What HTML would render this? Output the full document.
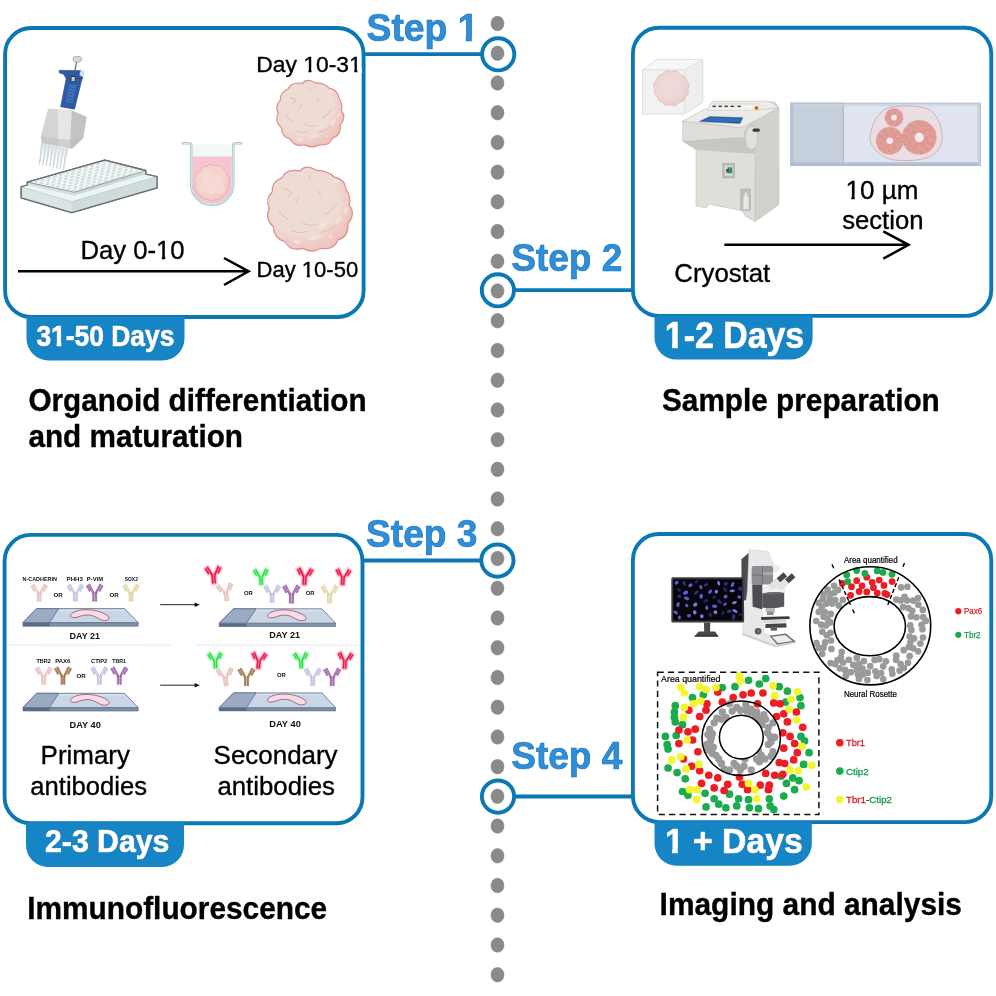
<!DOCTYPE html>
<html lang="en"><head><meta charset="utf-8"><title>Organoid immunofluorescence workflow</title>
<style>html,body{margin:0;padding:0;background:#fff}svg{display:block;will-change:transform}text{font-family:"Liberation Sans", sans-serif}</style>
</head><body>
<svg width="996" height="996" viewBox="0 0 996 996">
<rect width="996" height="996" fill="#fff"/>
<rect x="5.1" y="28" width="358.5" height="289" rx="26" ry="26" fill="#fff" stroke="#0b78b6" stroke-width="3.9"/>
<rect x="632.9" y="27.7" width="358.4" height="288.2" rx="26" ry="26" fill="#fff" stroke="#0b78b6" stroke-width="3.9"/>
<rect x="4.6" y="534.9" width="357.9" height="288.4" rx="26" ry="26" fill="#fff" stroke="#0b78b6" stroke-width="3.9"/>
<rect x="632.9" y="534" width="358.4" height="288.1" rx="26" ry="26" fill="#fff" stroke="#0b78b6" stroke-width="3.9"/>
<path d="M26.5 316.5 H184.5 V338.4 a22 22 0 0 1 -22 22 H48.5 a22 22 0 0 1 -22 -22 Z" fill="#1585c5"/>
<path d="M654.5 315.4 H812.6 V337.6 a22 22 0 0 1 -22 22 H676.5 a22 22 0 0 1 -22 -22 Z" fill="#1585c5"/>
<path d="M26 822.8 H184 V845 a22 22 0 0 1 -22 22 H48 a22 22 0 0 1 -22 -22 Z" fill="#1585c5"/>
<path d="M654.5 821.6 H811.8 V843.7 a22 22 0 0 1 -22 22 H676.5 a22 22 0 0 1 -22 -22 Z" fill="#1585c5"/>
<line x1="363.6" y1="54.2" x2="482" y2="54.2" stroke="#0b78b6" stroke-width="3.8"/>
<circle cx="498.2" cy="54.3" r="16.1" fill="#fff" stroke="#0b78b6" stroke-width="3.9"/>
<line x1="514" y1="290.2" x2="632.9" y2="290.2" stroke="#0b78b6" stroke-width="3.8"/>
<circle cx="497.9" cy="290.3" r="16.1" fill="#fff" stroke="#0b78b6" stroke-width="3.9"/>
<line x1="362.5" y1="560.5" x2="481.4" y2="560.5" stroke="#0b78b6" stroke-width="3.8"/>
<circle cx="497.4" cy="560.6" r="16.1" fill="#fff" stroke="#0b78b6" stroke-width="3.9"/>
<line x1="514" y1="796.5" x2="632.9" y2="796.5" stroke="#0b78b6" stroke-width="3.8"/>
<circle cx="498" cy="796.6" r="16.1" fill="#fff" stroke="#0b78b6" stroke-width="3.9"/>
<rect x="491.05" y="16.25" width="12.9" height="14.5" rx="6.4" ry="6.8" fill="#8a8a8a" stroke="#7d7d7d" stroke-width="0.5"/>
<rect x="491.05" y="45.98" width="12.9" height="14.5" rx="6.4" ry="6.8" fill="#8a8a8a" stroke="#7d7d7d" stroke-width="0.5"/>
<rect x="491.05" y="75.7" width="12.9" height="14.5" rx="6.4" ry="6.8" fill="#8a8a8a" stroke="#7d7d7d" stroke-width="0.5"/>
<rect x="491.05" y="105.43" width="12.9" height="14.5" rx="6.4" ry="6.8" fill="#8a8a8a" stroke="#7d7d7d" stroke-width="0.5"/>
<rect x="491.05" y="135.15" width="12.9" height="14.5" rx="6.4" ry="6.8" fill="#8a8a8a" stroke="#7d7d7d" stroke-width="0.5"/>
<rect x="491.05" y="164.88" width="12.9" height="14.5" rx="6.4" ry="6.8" fill="#8a8a8a" stroke="#7d7d7d" stroke-width="0.5"/>
<rect x="491.05" y="194.6" width="12.9" height="14.5" rx="6.4" ry="6.8" fill="#8a8a8a" stroke="#7d7d7d" stroke-width="0.5"/>
<rect x="491.05" y="224.33" width="12.9" height="14.5" rx="6.4" ry="6.8" fill="#8a8a8a" stroke="#7d7d7d" stroke-width="0.5"/>
<rect x="491.05" y="254.05" width="12.9" height="14.5" rx="6.4" ry="6.8" fill="#8a8a8a" stroke="#7d7d7d" stroke-width="0.5"/>
<rect x="491.05" y="283.78" width="12.9" height="14.5" rx="6.4" ry="6.8" fill="#8a8a8a" stroke="#7d7d7d" stroke-width="0.5"/>
<rect x="491.05" y="313.5" width="12.9" height="14.5" rx="6.4" ry="6.8" fill="#8a8a8a" stroke="#7d7d7d" stroke-width="0.5"/>
<rect x="491.05" y="343.23" width="12.9" height="14.5" rx="6.4" ry="6.8" fill="#8a8a8a" stroke="#7d7d7d" stroke-width="0.5"/>
<rect x="491.05" y="372.95" width="12.9" height="14.5" rx="6.4" ry="6.8" fill="#8a8a8a" stroke="#7d7d7d" stroke-width="0.5"/>
<rect x="491.05" y="402.68" width="12.9" height="14.5" rx="6.4" ry="6.8" fill="#8a8a8a" stroke="#7d7d7d" stroke-width="0.5"/>
<rect x="491.05" y="432.4" width="12.9" height="14.5" rx="6.4" ry="6.8" fill="#8a8a8a" stroke="#7d7d7d" stroke-width="0.5"/>
<rect x="491.05" y="462.12" width="12.9" height="14.5" rx="6.4" ry="6.8" fill="#8a8a8a" stroke="#7d7d7d" stroke-width="0.5"/>
<rect x="491.05" y="491.85" width="12.9" height="14.5" rx="6.4" ry="6.8" fill="#8a8a8a" stroke="#7d7d7d" stroke-width="0.5"/>
<rect x="491.05" y="521.58" width="12.9" height="14.5" rx="6.4" ry="6.8" fill="#8a8a8a" stroke="#7d7d7d" stroke-width="0.5"/>
<rect x="491.05" y="551.3" width="12.9" height="14.5" rx="6.4" ry="6.8" fill="#8a8a8a" stroke="#7d7d7d" stroke-width="0.5"/>
<rect x="491.05" y="581.02" width="12.9" height="14.5" rx="6.4" ry="6.8" fill="#8a8a8a" stroke="#7d7d7d" stroke-width="0.5"/>
<rect x="491.05" y="610.75" width="12.9" height="14.5" rx="6.4" ry="6.8" fill="#8a8a8a" stroke="#7d7d7d" stroke-width="0.5"/>
<rect x="491.05" y="640.48" width="12.9" height="14.5" rx="6.4" ry="6.8" fill="#8a8a8a" stroke="#7d7d7d" stroke-width="0.5"/>
<rect x="491.05" y="670.2" width="12.9" height="14.5" rx="6.4" ry="6.8" fill="#8a8a8a" stroke="#7d7d7d" stroke-width="0.5"/>
<rect x="491.05" y="699.93" width="12.9" height="14.5" rx="6.4" ry="6.8" fill="#8a8a8a" stroke="#7d7d7d" stroke-width="0.5"/>
<rect x="491.05" y="729.65" width="12.9" height="14.5" rx="6.4" ry="6.8" fill="#8a8a8a" stroke="#7d7d7d" stroke-width="0.5"/>
<rect x="491.05" y="759.38" width="12.9" height="14.5" rx="6.4" ry="6.8" fill="#8a8a8a" stroke="#7d7d7d" stroke-width="0.5"/>
<rect x="491.05" y="789.1" width="12.9" height="14.5" rx="6.4" ry="6.8" fill="#8a8a8a" stroke="#7d7d7d" stroke-width="0.5"/>
<rect x="491.05" y="818.83" width="12.9" height="14.5" rx="6.4" ry="6.8" fill="#8a8a8a" stroke="#7d7d7d" stroke-width="0.5"/>
<rect x="491.05" y="848.55" width="12.9" height="14.5" rx="6.4" ry="6.8" fill="#8a8a8a" stroke="#7d7d7d" stroke-width="0.5"/>
<rect x="491.05" y="878.28" width="12.9" height="14.5" rx="6.4" ry="6.8" fill="#8a8a8a" stroke="#7d7d7d" stroke-width="0.5"/>
<rect x="491.05" y="908" width="12.9" height="14.5" rx="6.4" ry="6.8" fill="#8a8a8a" stroke="#7d7d7d" stroke-width="0.5"/>
<rect x="491.05" y="937.73" width="12.9" height="14.5" rx="6.4" ry="6.8" fill="#8a8a8a" stroke="#7d7d7d" stroke-width="0.5"/>
<rect x="491.05" y="967.45" width="12.9" height="14.5" rx="6.4" ry="6.8" fill="#8a8a8a" stroke="#7d7d7d" stroke-width="0.5"/>
<text x="366.6" y="40.7" font-size="39.1" font-weight="bold" fill="#308dd7" text-anchor="start" textLength="111.8" lengthAdjust="spacingAndGlyphs" stroke="#1a76c0" stroke-width="0.7">Step 1</text>
<rect x="458.8" y="34.82" width="6.93" height="7.28" fill="#fff"/><rect x="471.91" y="34.82" width="6.81" height="7.28" fill="#fff"/>
<text x="511.2" y="271.3" font-size="39.1" font-weight="bold" fill="#308dd7" text-anchor="start" textLength="111.2" lengthAdjust="spacingAndGlyphs" stroke="#1a76c0" stroke-width="0.7">Step 2</text>
<text x="366.1" y="546.9" font-size="39.1" font-weight="bold" fill="#308dd7" text-anchor="start" textLength="111.2" lengthAdjust="spacingAndGlyphs" stroke="#1a76c0" stroke-width="0.7">Step 3</text>
<text x="511.2" y="769" font-size="39.1" font-weight="bold" fill="#308dd7" text-anchor="start" textLength="111.2" lengthAdjust="spacingAndGlyphs" stroke="#1a76c0" stroke-width="0.7">Step 4</text>
<text x="36.4" y="345.8" font-size="28.6" font-weight="bold" fill="#fff" text-anchor="start" textLength="138" lengthAdjust="spacingAndGlyphs" style="filter:drop-shadow(0.3px 0.5px 0.7px rgba(4,58,102,0.95))" stroke="#fff" stroke-width="0.7">31-50 Days</text>
<rect x="51.88" y="341.34" width="4.78" height="5.86" fill="#1585c5"/><rect x="61.31" y="341.34" width="4.7" height="5.86" fill="#1585c5"/>
<text x="664.8" y="348.3" font-size="37.13" font-weight="bold" fill="#fff" text-anchor="start" textLength="139.4" lengthAdjust="spacingAndGlyphs" style="filter:drop-shadow(0.3px 0.5px 0.7px rgba(4,58,102,0.95))" stroke="#fff" stroke-width="0.7">1-2 Days</text>
<rect x="665.82" y="342.69" width="6.26" height="7.01" fill="#1585c5"/><rect x="677.79" y="342.69" width="6.16" height="7.01" fill="#1585c5"/>
<text x="45" y="852.3" font-size="30.68" font-weight="bold" fill="#fff" text-anchor="start" textLength="124.4" lengthAdjust="spacingAndGlyphs" style="filter:drop-shadow(0.3px 0.5px 0.7px rgba(4,58,102,0.95))" stroke="#fff" stroke-width="0.7">2-3 Days</text>
<text x="664.9" y="853.4" font-size="35.36" font-weight="bold" fill="#fff" text-anchor="start" textLength="137.8" lengthAdjust="spacingAndGlyphs" style="filter:drop-shadow(0.3px 0.5px 0.7px rgba(4,58,102,0.95))" stroke="#fff" stroke-width="0.7">1 + Days</text>
<rect x="665.91" y="848.03" width="6.23" height="6.77" fill="#1585c5"/><rect x="677.83" y="848.03" width="6.13" height="6.77" fill="#1585c5"/>
<text x="28.4" y="410.8" font-size="30.78" font-weight="bold" fill="#000" text-anchor="start" textLength="338.2" lengthAdjust="spacingAndGlyphs" stroke="#000" stroke-width="0.35">Organoid differentiation</text>
<text x="28.4" y="447.2" font-size="30.78" font-weight="bold" fill="#000" text-anchor="start" textLength="214.6" lengthAdjust="spacingAndGlyphs" stroke="#000" stroke-width="0.35">and maturation</text>
<text x="662" y="411.2" font-size="30.78" font-weight="bold" fill="#000" text-anchor="start" textLength="277.8" lengthAdjust="spacingAndGlyphs" stroke="#000" stroke-width="0.35">Sample preparation</text>
<text x="27.2" y="919.2" font-size="30.78" font-weight="bold" fill="#000" text-anchor="start" textLength="300" lengthAdjust="spacingAndGlyphs" stroke="#000" stroke-width="0.35">Immunofluorescence</text>
<text x="659.6" y="915.1" font-size="30.78" font-weight="bold" fill="#000" text-anchor="start" textLength="302.4" lengthAdjust="spacingAndGlyphs" stroke="#000" stroke-width="0.35">Imaging and analysis</text>
<g id="panel1">
<polygon points="21.2,186.9 27.3,185 27.3,182.1 104.8,160.1 145.7,170.5 145.7,174.1 157,176.6 157,187.9 71.8,212.6 21.2,197.8" fill="#dbe6e6" stroke="#6b6f70" stroke-width="1.3" stroke-linejoin="round"/>
<polygon points="21.2,186.9 27.3,185 74.3,195.4 145.7,174.1 157,176.6 71.8,201.8" fill="#eef4f4" stroke="none" stroke-width="0" stroke-linejoin="round"/>
<polygon points="21.2,186.9 71.8,201.8 71.8,212.6 21.2,197.8" fill="#dae5e5" stroke="none" stroke-width="0" stroke-linejoin="round"/>
<polygon points="71.8,201.8 157,176.6 157,187.9 71.8,212.6" fill="#cfdcdc" stroke="none" stroke-width="0" stroke-linejoin="round"/>
<polygon points="27.3,182.1 74.3,192.2 74.3,195.4 27.3,185" fill="#d3e0e0" stroke="none" stroke-width="0" stroke-linejoin="round"/>
<polygon points="74.3,192.2 145.7,170.5 145.7,174.1 74.3,195.4" fill="#c9d8d8" stroke="none" stroke-width="0" stroke-linejoin="round"/>
<polygon points="27.3,182.1 104.8,160.1 145.7,170.5 74.3,192.2" fill="#f4f8f8" stroke="#6b6f70" stroke-width="0.7" stroke-linejoin="round"/>
<ellipse cx="36.32" cy="181.72" rx="2.3" ry="1.05" fill="#d2dede" transform="rotate(-14 36.32 181.72)"/>
<ellipse cx="41.79" cy="182.89" rx="2.3" ry="1.05" fill="#d2dede" transform="rotate(-14 41.79 182.89)"/>
<ellipse cx="47.25" cy="184.07" rx="2.3" ry="1.05" fill="#d2dede" transform="rotate(-14 47.25 184.07)"/>
<ellipse cx="52.72" cy="185.24" rx="2.3" ry="1.05" fill="#d2dede" transform="rotate(-14 52.72 185.24)"/>
<ellipse cx="58.18" cy="186.42" rx="2.3" ry="1.05" fill="#d2dede" transform="rotate(-14 58.18 186.42)"/>
<ellipse cx="63.65" cy="187.59" rx="2.3" ry="1.05" fill="#d2dede" transform="rotate(-14 63.65 187.59)"/>
<ellipse cx="69.11" cy="188.77" rx="2.3" ry="1.05" fill="#d2dede" transform="rotate(-14 69.11 188.77)"/>
<ellipse cx="74.58" cy="189.94" rx="2.3" ry="1.05" fill="#d2dede" transform="rotate(-14 74.58 189.94)"/>
<ellipse cx="42.52" cy="179.96" rx="2.3" ry="1.05" fill="#d2dede" transform="rotate(-14 42.52 179.96)"/>
<ellipse cx="47.99" cy="181.13" rx="2.3" ry="1.05" fill="#d2dede" transform="rotate(-14 47.99 181.13)"/>
<ellipse cx="53.45" cy="182.31" rx="2.3" ry="1.05" fill="#d2dede" transform="rotate(-14 53.45 182.31)"/>
<ellipse cx="58.92" cy="183.48" rx="2.3" ry="1.05" fill="#d2dede" transform="rotate(-14 58.92 183.48)"/>
<ellipse cx="64.38" cy="184.66" rx="2.3" ry="1.05" fill="#d2dede" transform="rotate(-14 64.38 184.66)"/>
<ellipse cx="69.85" cy="185.83" rx="2.3" ry="1.05" fill="#d2dede" transform="rotate(-14 69.85 185.83)"/>
<ellipse cx="75.31" cy="187.01" rx="2.3" ry="1.05" fill="#d2dede" transform="rotate(-14 75.31 187.01)"/>
<ellipse cx="80.78" cy="188.18" rx="2.3" ry="1.05" fill="#d2dede" transform="rotate(-14 80.78 188.18)"/>
<ellipse cx="48.72" cy="178.2" rx="2.3" ry="1.05" fill="#d2dede" transform="rotate(-14 48.72 178.2)"/>
<ellipse cx="54.19" cy="179.37" rx="2.3" ry="1.05" fill="#d2dede" transform="rotate(-14 54.19 179.37)"/>
<ellipse cx="59.65" cy="180.55" rx="2.3" ry="1.05" fill="#d2dede" transform="rotate(-14 59.65 180.55)"/>
<ellipse cx="65.12" cy="181.72" rx="2.3" ry="1.05" fill="#d2dede" transform="rotate(-14 65.12 181.72)"/>
<ellipse cx="70.58" cy="182.9" rx="2.3" ry="1.05" fill="#d2dede" transform="rotate(-14 70.58 182.9)"/>
<ellipse cx="76.05" cy="184.07" rx="2.3" ry="1.05" fill="#d2dede" transform="rotate(-14 76.05 184.07)"/>
<ellipse cx="81.51" cy="185.25" rx="2.3" ry="1.05" fill="#d2dede" transform="rotate(-14 81.51 185.25)"/>
<ellipse cx="86.98" cy="186.42" rx="2.3" ry="1.05" fill="#d2dede" transform="rotate(-14 86.98 186.42)"/>
<ellipse cx="54.92" cy="176.44" rx="2.3" ry="1.05" fill="#d2dede" transform="rotate(-14 54.92 176.44)"/>
<ellipse cx="60.39" cy="177.61" rx="2.3" ry="1.05" fill="#d2dede" transform="rotate(-14 60.39 177.61)"/>
<ellipse cx="65.85" cy="178.79" rx="2.3" ry="1.05" fill="#d2dede" transform="rotate(-14 65.85 178.79)"/>
<ellipse cx="71.32" cy="179.96" rx="2.3" ry="1.05" fill="#d2dede" transform="rotate(-14 71.32 179.96)"/>
<ellipse cx="76.78" cy="181.14" rx="2.3" ry="1.05" fill="#d2dede" transform="rotate(-14 76.78 181.14)"/>
<ellipse cx="82.25" cy="182.31" rx="2.3" ry="1.05" fill="#d2dede" transform="rotate(-14 82.25 182.31)"/>
<ellipse cx="87.71" cy="183.49" rx="2.3" ry="1.05" fill="#d2dede" transform="rotate(-14 87.71 183.49)"/>
<ellipse cx="93.18" cy="184.66" rx="2.3" ry="1.05" fill="#d2dede" transform="rotate(-14 93.18 184.66)"/>
<ellipse cx="61.12" cy="174.68" rx="2.3" ry="1.05" fill="#d2dede" transform="rotate(-14 61.12 174.68)"/>
<ellipse cx="66.59" cy="175.85" rx="2.3" ry="1.05" fill="#d2dede" transform="rotate(-14 66.59 175.85)"/>
<ellipse cx="72.05" cy="177.03" rx="2.3" ry="1.05" fill="#d2dede" transform="rotate(-14 72.05 177.03)"/>
<ellipse cx="77.52" cy="178.2" rx="2.3" ry="1.05" fill="#d2dede" transform="rotate(-14 77.52 178.2)"/>
<ellipse cx="82.98" cy="179.38" rx="2.3" ry="1.05" fill="#d2dede" transform="rotate(-14 82.98 179.38)"/>
<ellipse cx="88.45" cy="180.55" rx="2.3" ry="1.05" fill="#d2dede" transform="rotate(-14 88.45 180.55)"/>
<ellipse cx="93.91" cy="181.73" rx="2.3" ry="1.05" fill="#d2dede" transform="rotate(-14 93.91 181.73)"/>
<ellipse cx="99.38" cy="182.9" rx="2.3" ry="1.05" fill="#d2dede" transform="rotate(-14 99.38 182.9)"/>
<ellipse cx="67.32" cy="172.92" rx="2.3" ry="1.05" fill="#d2dede" transform="rotate(-14 67.32 172.92)"/>
<ellipse cx="72.79" cy="174.09" rx="2.3" ry="1.05" fill="#d2dede" transform="rotate(-14 72.79 174.09)"/>
<ellipse cx="78.25" cy="175.27" rx="2.3" ry="1.05" fill="#d2dede" transform="rotate(-14 78.25 175.27)"/>
<ellipse cx="83.72" cy="176.44" rx="2.3" ry="1.05" fill="#d2dede" transform="rotate(-14 83.72 176.44)"/>
<ellipse cx="89.18" cy="177.62" rx="2.3" ry="1.05" fill="#d2dede" transform="rotate(-14 89.18 177.62)"/>
<ellipse cx="94.65" cy="178.79" rx="2.3" ry="1.05" fill="#d2dede" transform="rotate(-14 94.65 178.79)"/>
<ellipse cx="100.11" cy="179.97" rx="2.3" ry="1.05" fill="#d2dede" transform="rotate(-14 100.11 179.97)"/>
<ellipse cx="105.58" cy="181.14" rx="2.3" ry="1.05" fill="#d2dede" transform="rotate(-14 105.58 181.14)"/>
<ellipse cx="73.52" cy="171.16" rx="2.3" ry="1.05" fill="#d2dede" transform="rotate(-14 73.52 171.16)"/>
<ellipse cx="78.99" cy="172.33" rx="2.3" ry="1.05" fill="#d2dede" transform="rotate(-14 78.99 172.33)"/>
<ellipse cx="84.45" cy="173.51" rx="2.3" ry="1.05" fill="#d2dede" transform="rotate(-14 84.45 173.51)"/>
<ellipse cx="89.92" cy="174.68" rx="2.3" ry="1.05" fill="#d2dede" transform="rotate(-14 89.92 174.68)"/>
<ellipse cx="95.38" cy="175.86" rx="2.3" ry="1.05" fill="#d2dede" transform="rotate(-14 95.38 175.86)"/>
<ellipse cx="100.85" cy="177.03" rx="2.3" ry="1.05" fill="#d2dede" transform="rotate(-14 100.85 177.03)"/>
<ellipse cx="106.31" cy="178.21" rx="2.3" ry="1.05" fill="#d2dede" transform="rotate(-14 106.31 178.21)"/>
<ellipse cx="111.78" cy="179.38" rx="2.3" ry="1.05" fill="#d2dede" transform="rotate(-14 111.78 179.38)"/>
<ellipse cx="79.72" cy="169.4" rx="2.3" ry="1.05" fill="#d2dede" transform="rotate(-14 79.72 169.4)"/>
<ellipse cx="85.19" cy="170.57" rx="2.3" ry="1.05" fill="#d2dede" transform="rotate(-14 85.19 170.57)"/>
<ellipse cx="90.65" cy="171.75" rx="2.3" ry="1.05" fill="#d2dede" transform="rotate(-14 90.65 171.75)"/>
<ellipse cx="96.12" cy="172.92" rx="2.3" ry="1.05" fill="#d2dede" transform="rotate(-14 96.12 172.92)"/>
<ellipse cx="101.58" cy="174.1" rx="2.3" ry="1.05" fill="#d2dede" transform="rotate(-14 101.58 174.1)"/>
<ellipse cx="107.05" cy="175.27" rx="2.3" ry="1.05" fill="#d2dede" transform="rotate(-14 107.05 175.27)"/>
<ellipse cx="112.51" cy="176.45" rx="2.3" ry="1.05" fill="#d2dede" transform="rotate(-14 112.51 176.45)"/>
<ellipse cx="117.98" cy="177.62" rx="2.3" ry="1.05" fill="#d2dede" transform="rotate(-14 117.98 177.62)"/>
<ellipse cx="85.92" cy="167.64" rx="2.3" ry="1.05" fill="#d2dede" transform="rotate(-14 85.92 167.64)"/>
<ellipse cx="91.39" cy="168.81" rx="2.3" ry="1.05" fill="#d2dede" transform="rotate(-14 91.39 168.81)"/>
<ellipse cx="96.85" cy="169.99" rx="2.3" ry="1.05" fill="#d2dede" transform="rotate(-14 96.85 169.99)"/>
<ellipse cx="102.32" cy="171.16" rx="2.3" ry="1.05" fill="#d2dede" transform="rotate(-14 102.32 171.16)"/>
<ellipse cx="107.78" cy="172.34" rx="2.3" ry="1.05" fill="#d2dede" transform="rotate(-14 107.78 172.34)"/>
<ellipse cx="113.25" cy="173.51" rx="2.3" ry="1.05" fill="#d2dede" transform="rotate(-14 113.25 173.51)"/>
<ellipse cx="118.71" cy="174.69" rx="2.3" ry="1.05" fill="#d2dede" transform="rotate(-14 118.71 174.69)"/>
<ellipse cx="124.18" cy="175.86" rx="2.3" ry="1.05" fill="#d2dede" transform="rotate(-14 124.18 175.86)"/>
<ellipse cx="92.12" cy="165.88" rx="2.3" ry="1.05" fill="#d2dede" transform="rotate(-14 92.12 165.88)"/>
<ellipse cx="97.59" cy="167.05" rx="2.3" ry="1.05" fill="#d2dede" transform="rotate(-14 97.59 167.05)"/>
<ellipse cx="103.05" cy="168.23" rx="2.3" ry="1.05" fill="#d2dede" transform="rotate(-14 103.05 168.23)"/>
<ellipse cx="108.52" cy="169.4" rx="2.3" ry="1.05" fill="#d2dede" transform="rotate(-14 108.52 169.4)"/>
<ellipse cx="113.98" cy="170.58" rx="2.3" ry="1.05" fill="#d2dede" transform="rotate(-14 113.98 170.58)"/>
<ellipse cx="119.45" cy="171.75" rx="2.3" ry="1.05" fill="#d2dede" transform="rotate(-14 119.45 171.75)"/>
<ellipse cx="124.91" cy="172.93" rx="2.3" ry="1.05" fill="#d2dede" transform="rotate(-14 124.91 172.93)"/>
<ellipse cx="130.38" cy="174.1" rx="2.3" ry="1.05" fill="#d2dede" transform="rotate(-14 130.38 174.1)"/>
<ellipse cx="98.32" cy="164.12" rx="2.3" ry="1.05" fill="#d2dede" transform="rotate(-14 98.32 164.12)"/>
<ellipse cx="103.79" cy="165.29" rx="2.3" ry="1.05" fill="#d2dede" transform="rotate(-14 103.79 165.29)"/>
<ellipse cx="109.25" cy="166.47" rx="2.3" ry="1.05" fill="#d2dede" transform="rotate(-14 109.25 166.47)"/>
<ellipse cx="114.72" cy="167.64" rx="2.3" ry="1.05" fill="#d2dede" transform="rotate(-14 114.72 167.64)"/>
<ellipse cx="120.18" cy="168.82" rx="2.3" ry="1.05" fill="#d2dede" transform="rotate(-14 120.18 168.82)"/>
<ellipse cx="125.65" cy="169.99" rx="2.3" ry="1.05" fill="#d2dede" transform="rotate(-14 125.65 169.99)"/>
<ellipse cx="131.11" cy="171.17" rx="2.3" ry="1.05" fill="#d2dede" transform="rotate(-14 131.11 171.17)"/>
<ellipse cx="136.58" cy="172.34" rx="2.3" ry="1.05" fill="#d2dede" transform="rotate(-14 136.58 172.34)"/>
<ellipse cx="104.52" cy="162.36" rx="2.3" ry="1.05" fill="#d2dede" transform="rotate(-14 104.52 162.36)"/>
<ellipse cx="109.99" cy="163.53" rx="2.3" ry="1.05" fill="#d2dede" transform="rotate(-14 109.99 163.53)"/>
<ellipse cx="115.45" cy="164.71" rx="2.3" ry="1.05" fill="#d2dede" transform="rotate(-14 115.45 164.71)"/>
<ellipse cx="120.92" cy="165.88" rx="2.3" ry="1.05" fill="#d2dede" transform="rotate(-14 120.92 165.88)"/>
<ellipse cx="126.38" cy="167.06" rx="2.3" ry="1.05" fill="#d2dede" transform="rotate(-14 126.38 167.06)"/>
<ellipse cx="131.85" cy="168.23" rx="2.3" ry="1.05" fill="#d2dede" transform="rotate(-14 131.85 168.23)"/>
<ellipse cx="137.31" cy="169.41" rx="2.3" ry="1.05" fill="#d2dede" transform="rotate(-14 137.31 169.41)"/>
<ellipse cx="142.78" cy="170.58" rx="2.3" ry="1.05" fill="#d2dede" transform="rotate(-14 142.78 170.58)"/>
<polyline points="21.2,186.9 71.8,201.8 157,176.6" fill="none" stroke="#b4c4c4" stroke-width="0.6"/>
<polygon points="21.2,186.9 27.3,185 27.3,182.1 104.8,160.1 145.7,170.5 145.7,174.1 157,176.6 157,187.9 71.8,212.6 21.2,197.8" fill="none" stroke="#6b6f70" stroke-width="1.3" stroke-linejoin="round"/>
<path d="M41.4 143.5 L43.6 143.7 L39.3 164.5 Z" fill="#dfe7ea" stroke="#b7c4ca" stroke-width="0.5"/>
<path d="M44.85 144.25 L47.05 144.45 L42.75 165.25 Z" fill="#dfe7ea" stroke="#b7c4ca" stroke-width="0.5"/>
<path d="M48.3 145 L50.5 145.2 L46.2 166 Z" fill="#dfe7ea" stroke="#b7c4ca" stroke-width="0.5"/>
<path d="M51.75 145.75 L53.95 145.95 L49.65 166.75 Z" fill="#dfe7ea" stroke="#b7c4ca" stroke-width="0.5"/>
<path d="M55.2 146.5 L57.4 146.7 L53.1 167.5 Z" fill="#dfe7ea" stroke="#b7c4ca" stroke-width="0.5"/>
<path d="M58.65 147.25 L60.85 147.45 L56.55 168.25 Z" fill="#dfe7ea" stroke="#b7c4ca" stroke-width="0.5"/>
<path d="M62.1 148 L64.3 148.2 L60 169 Z" fill="#dfe7ea" stroke="#b7c4ca" stroke-width="0.5"/>
<path d="M65.55 148.75 L67.75 148.95 L63.45 169.75 Z" fill="#dfe7ea" stroke="#b7c4ca" stroke-width="0.5"/>
<polygon points="48.6,109 71.8,110.7 86.3,117 83,138 71.8,148.4 42,142.8 41.3,136.4" fill="#d4d4d6" stroke="#c2c2c4" stroke-width="0.6" stroke-linejoin="round"/>
<polygon points="57.5,109.7 71.8,110.7 69.5,148 59,146 58.2,139" fill="#e6e6e8" stroke="none" stroke-width="0" stroke-linejoin="round"/>
<polygon points="71.8,110.7 86.3,117 83,138 71.8,148.4 70.5,139" fill="#c3c3c6" stroke="none" stroke-width="0" stroke-linejoin="round"/>
<polygon points="41.3,136.4 58.2,139 70.5,139.5 83,138 71.8,148.4 42,142.8" fill="#bdbdc0" stroke="none" stroke-width="0" stroke-linejoin="round" opacity="0.55"/>
<polygon points="66.4,77.5 82.4,77.5 74.5,109.2 60.6,106.8" fill="#2d5aa2" stroke="#264c8a" stroke-width="0.6" stroke-linejoin="round"/>
<polygon points="59,70.3 81,70.5 82.8,78.5 66.2,78.5 63.5,74.2 59.5,73" fill="#2d5aa2" stroke="#264c8a" stroke-width="0.5" stroke-linejoin="round"/>
<polygon points="69.5,84 76.5,85 72.3,103.5 65.6,102.3" fill="#3f70b8" stroke="none" stroke-width="0" stroke-linejoin="round"/>
<line x1="69.6" y1="88" x2="74.8" y2="88.7" stroke="#2a528f" stroke-width="0.6"/>
<line x1="68.9" y1="91.1" x2="74.1" y2="91.8" stroke="#2a528f" stroke-width="0.6"/>
<line x1="68.2" y1="94.2" x2="73.4" y2="94.9" stroke="#2a528f" stroke-width="0.6"/>
<line x1="67.5" y1="97.3" x2="72.7" y2="98" stroke="#2a528f" stroke-width="0.6"/>
<line x1="66.8" y1="100.4" x2="72" y2="101.1" stroke="#2a528f" stroke-width="0.6"/>
<rect x="70.6" y="75.8" width="5.2" height="5.6" fill="#3a3f4c"/>
<rect x="71.6" y="77" width="3.2" height="4" fill="#c9c9c9"/>
<line x1="76.7" y1="61.5" x2="75" y2="70.5" stroke="#55565c" stroke-width="1.1"/>
<ellipse cx="77.4" cy="59.2" rx="4.3" ry="2.9" fill="#d9dadd" stroke="#8e9096" stroke-width="0.7"/>
<polygon points="80.2,71 84,71.8 83,76.5 79.8,75.6" fill="#e6e6e6" stroke="#b5b5b5" stroke-width="0.5" stroke-linejoin="round"/>
<path d="M192.6 144.6 H231.7 V184 a19.5 19.5 0 0 1 -39.1 0 Z" fill="#f2f7f7"/>
<path d="M192.6 156.6 H231.7 V184 a19.5 19.5 0 0 1 -39.1 0 Z" fill="#f8c4d2"/>
<path d="M183 143.3 H189 q2.2 0 2.2 2.4 V184 a21 21 0 0 0 42 0 V145.7 q0 -2.4 2.2 -2.4 H241" fill="none" stroke="#a9c3c1" stroke-width="2.6" stroke-linecap="round" stroke-linejoin="round"/>
<path d="M183 143.3 H189 q2.2 0 2.2 2.4 V184 a21 21 0 0 0 42 0 V145.7 q0 -2.4 2.2 -2.4 H241" fill="none" stroke="#e4eeee" stroke-width="1" stroke-linecap="round" stroke-linejoin="round"/>
<radialGradient id="og0" cx="0.40" cy="0.36" r="0.72"><stop offset="0" stop-color="#f4d3cf"/><stop offset="0.62" stop-color="#f4d3cf"/><stop offset="1" stop-color="#eec0bd"/></radialGradient>
<g>
<path d="M200.1 171.07 A5.86 5.86 0 0 1 206.71 166.4 A6.04 6.04 0 0 1 215.03 165.9 A6.38 6.38 0 0 1 223.02 169.58 A5.78 5.78 0 0 1 227.43 176.22 A6.16 6.16 0 0 1 228.81 184.6 A4 4 0 0 1 227.79 190.02 A5.11 5.11 0 0 1 223.18 195.36 A6.33 6.33 0 0 1 215.58 199.66 A5.6 5.6 0 0 1 207.88 199.06 A6.24 6.24 0 0 1 200.22 195.14 A4.28 4.28 0 0 1 196.67 190.42 A5.14 5.14 0 0 1 195.59 183.42 A4.54 4.54 0 0 1 196.02 177.17 A5.32 5.32 0 0 1 200.1 171.07 Z" fill="url(#og0)" stroke="#e2aaa8" stroke-width="0.8" stroke-linejoin="round"/>
</g>
<circle cx="207.2" cy="176.8" r="5.64" fill="#f7dcd8" opacity="0.55"/>
<circle cx="217.2" cy="179.8" r="5.17" fill="#f7dcd8" opacity="0.55"/>
<circle cx="210.2" cy="188.8" r="6.11" fill="#f7dcd8" opacity="0.55"/>
<circle cx="220.2" cy="189.8" r="4.7" fill="#f7dcd8" opacity="0.55"/>
<circle cx="203.2" cy="186.8" r="4.23" fill="#f7dcd8" opacity="0.55"/>
<clipPath id="ob1"><path d="M302.68 83.37 Q306.54 77.58 315.55 82.94 Q324.13 82.94 329.27 88.09 Q338.28 90.24 338.71 97.53 Q343.43 104.82 341.28 110.4 Q346.86 116.83 340.43 124.98 Q340.86 135.71 332.71 137.85 Q329.27 146.43 318.98 144.71 Q312.54 149 304.39 144.71 Q294.1 147.29 290.67 139.57 Q281.66 136.99 281.23 127.56 Q274.15 121.12 278.23 112.97 Q274.58 105.68 280.37 100.1 Q279.94 91.95 288.09 88.95 Q291.1 81.44 302.68 83.37 Z"/></clipPath>
<radialGradient id="ob1g" gradientUnits="userSpaceOnUse" cx="303.88" cy="105.58" r="43.03"><stop offset="0" stop-color="#eedbd3"/><stop offset="0.66" stop-color="#eedbd3"/><stop offset="0.86" stop-color="#f0cbc6"/><stop offset="1" stop-color="#efc1bd"/></radialGradient>
<path d="M302.68 83.37 Q306.54 77.58 315.55 82.94 Q324.13 82.94 329.27 88.09 Q338.28 90.24 338.71 97.53 Q343.43 104.82 341.28 110.4 Q346.86 116.83 340.43 124.98 Q340.86 135.71 332.71 137.85 Q329.27 146.43 318.98 144.71 Q312.54 149 304.39 144.71 Q294.1 147.29 290.67 139.57 Q281.66 136.99 281.23 127.56 Q274.15 121.12 278.23 112.97 Q274.58 105.68 280.37 100.1 Q279.94 91.95 288.09 88.95 Q291.1 81.44 302.68 83.37 Z" fill="url(#ob1g)"/>
<g clip-path="url(#ob1)">
<ellipse cx="318.98" cy="116.4" rx="10.29" ry="8.58" fill="#eedbd3"/>
<ellipse cx="303.54" cy="124.98" rx="11.15" ry="7.72" fill="#eedbd3"/>
<ellipse cx="326.7" cy="102.68" rx="7.72" ry="7.72" fill="#eedbd3"/>
<ellipse cx="290.67" cy="123.27" rx="9.44" ry="7.72" fill="#eedbd3"/>
<ellipse cx="315.55" cy="126.7" rx="6.01" ry="3.86" fill="#eedbd3"/>
<ellipse cx="330.99" cy="112.11" rx="4.29" ry="5.15" fill="#eedbd3"/>
<ellipse cx="320.69" cy="126.7" rx="4.46" ry="2.06" fill="#f3e3db" opacity="0.85" transform="rotate(-32 320.69 126.7)"/>
<ellipse cx="332.71" cy="122.41" rx="3.95" ry="1.54" fill="#f3e3db" opacity="0.85" transform="rotate(-58 332.71 122.41)"/>
<ellipse cx="313.83" cy="136.13" rx="5.15" ry="2.06" fill="#f3e3db" opacity="0.85" transform="rotate(-12 313.83 136.13)"/>
<ellipse cx="300.11" cy="139.57" rx="2.92" ry="1.63" fill="#f3e3db" opacity="0.85" transform="rotate(8 300.11 139.57)"/>
<ellipse cx="338.71" cy="114.69" rx="1.2" ry="2.57" fill="#f3e3db" opacity="0.85" transform="rotate(0 338.71 114.69)"/>
<ellipse cx="330.99" cy="91.09" rx="2.4" ry="1.89" fill="#f3e3db" opacity="0.85" transform="rotate(-30 330.99 91.09)"/>
<ellipse cx="326.7" cy="135.71" rx="1.29" ry="1.12" fill="#f3e3db" opacity="0.85" transform="rotate(0 326.7 135.71)"/>
<path d="M289.98 97.36 Q293.24 98.56 296.24 101.13 M296.24 101.13 Q293.67 101.82 292.56 104.22 M309.37 87.06 Q310.4 88.61 310.91 90.32 M316.58 99.42 L318.72 101.99 M299.42 108.51 Q300.11 105.94 301.99 104.39 M285.69 114.52 Q288.09 118.8 292.56 121.72 M303.37 123.09 Q307.83 127.73 315.98 125.67 M322.41 118.12 Q327.56 114.69 331.42 109.54 M295.82 130.99 Q303.54 133.56 307.83 130.99 M318.98 131.84 Q326.7 130.99 330.99 126.7" fill="none" stroke="#e6b3ae" stroke-width="1.1" stroke-linecap="round" opacity="0.7"/>
</g>
<path d="M302.68 83.37 Q306.54 77.58 315.55 82.94 Q324.13 82.94 329.27 88.09 Q338.28 90.24 338.71 97.53 Q343.43 104.82 341.28 110.4 Q346.86 116.83 340.43 124.98 Q340.86 135.71 332.71 137.85 Q329.27 146.43 318.98 144.71 Q312.54 149 304.39 144.71 Q294.1 147.29 290.67 139.57 Q281.66 136.99 281.23 127.56 Q274.15 121.12 278.23 112.97 Q274.58 105.68 280.37 100.1 Q279.94 91.95 288.09 88.95 Q291.1 81.44 302.68 83.37 Z" fill="none" stroke="#d58f8e" stroke-width="1.15" stroke-linejoin="round"/>
<clipPath id="ob2"><path d="M300.34 170.85 Q305.22 163.53 316.61 170.31 Q327.45 170.31 333.95 176.82 Q345.34 179.53 345.88 188.74 Q351.84 197.96 349.13 205.01 Q356.18 213.14 348.05 223.44 Q348.59 236.99 338.29 239.7 Q333.95 250.54 320.94 248.37 Q312.81 253.79 302.51 248.37 Q289.5 251.63 285.16 241.87 Q273.78 238.62 273.24 226.69 Q264.29 218.56 269.44 208.26 Q264.83 199.04 272.15 191.99 Q271.61 181.69 281.91 177.9 Q285.71 168.41 300.34 170.85 Z"/></clipPath>
<radialGradient id="ob2g" gradientUnits="userSpaceOnUse" cx="301.86" cy="198.91" r="54.38"><stop offset="0" stop-color="#eedbd3"/><stop offset="0.66" stop-color="#eedbd3"/><stop offset="0.86" stop-color="#f0cbc6"/><stop offset="1" stop-color="#efc1bd"/></radialGradient>
<path d="M300.34 170.85 Q305.22 163.53 316.61 170.31 Q327.45 170.31 333.95 176.82 Q345.34 179.53 345.88 188.74 Q351.84 197.96 349.13 205.01 Q356.18 213.14 348.05 223.44 Q348.59 236.99 338.29 239.7 Q333.95 250.54 320.94 248.37 Q312.81 253.79 302.51 248.37 Q289.5 251.63 285.16 241.87 Q273.78 238.62 273.24 226.69 Q264.29 218.56 269.44 208.26 Q264.83 199.04 272.15 191.99 Q271.61 181.69 281.91 177.9 Q285.71 168.41 300.34 170.85 Z" fill="url(#ob2g)"/>
<g clip-path="url(#ob2)">
<ellipse cx="320.94" cy="212.59" rx="13.01" ry="10.84" fill="#eedbd3"/>
<ellipse cx="301.43" cy="223.44" rx="14.09" ry="9.76" fill="#eedbd3"/>
<ellipse cx="330.7" cy="195.25" rx="9.76" ry="9.76" fill="#eedbd3"/>
<ellipse cx="285.16" cy="221.27" rx="11.93" ry="9.76" fill="#eedbd3"/>
<ellipse cx="316.61" cy="225.61" rx="7.59" ry="4.88" fill="#eedbd3"/>
<ellipse cx="336.12" cy="207.17" rx="5.42" ry="6.51" fill="#eedbd3"/>
<ellipse cx="323.11" cy="225.61" rx="5.64" ry="2.6" fill="#f3e3db" opacity="0.85" transform="rotate(-32 323.11 225.61)"/>
<ellipse cx="338.29" cy="220.18" rx="4.99" ry="1.95" fill="#f3e3db" opacity="0.85" transform="rotate(-58 338.29 220.18)"/>
<ellipse cx="314.44" cy="237.53" rx="6.51" ry="2.6" fill="#f3e3db" opacity="0.85" transform="rotate(-12 314.44 237.53)"/>
<ellipse cx="297.09" cy="241.87" rx="3.69" ry="2.06" fill="#f3e3db" opacity="0.85" transform="rotate(8 297.09 241.87)"/>
<ellipse cx="345.88" cy="210.43" rx="1.52" ry="3.25" fill="#f3e3db" opacity="0.85" transform="rotate(0 345.88 210.43)"/>
<ellipse cx="336.12" cy="180.61" rx="3.04" ry="2.39" fill="#f3e3db" opacity="0.85" transform="rotate(-30 336.12 180.61)"/>
<ellipse cx="330.7" cy="236.99" rx="1.63" ry="1.41" fill="#f3e3db" opacity="0.85" transform="rotate(0 330.7 236.99)"/>
<path d="M284.3 188.53 Q288.42 190.04 292.21 193.3 M292.21 193.3 Q288.96 194.16 287.55 197.2 M308.8 175.51 Q310.1 177.47 310.75 179.63 M317.91 191.13 L320.62 194.38 M296.22 202.62 Q297.09 199.37 299.47 197.42 M278.87 210.21 Q281.91 215.63 287.55 219.32 M301.21 221.05 Q306.85 226.91 317.15 224.3 M325.28 214.76 Q331.78 210.43 336.66 203.92 M291.67 231.03 Q301.43 234.28 306.85 231.03 M320.94 232.11 Q330.7 231.03 336.12 225.61" fill="none" stroke="#e6b3ae" stroke-width="1.1" stroke-linecap="round" opacity="0.7"/>
</g>
<path d="M300.34 170.85 Q305.22 163.53 316.61 170.31 Q327.45 170.31 333.95 176.82 Q345.34 179.53 345.88 188.74 Q351.84 197.96 349.13 205.01 Q356.18 213.14 348.05 223.44 Q348.59 236.99 338.29 239.7 Q333.95 250.54 320.94 248.37 Q312.81 253.79 302.51 248.37 Q289.5 251.63 285.16 241.87 Q273.78 238.62 273.24 226.69 Q264.29 218.56 269.44 208.26 Q264.83 199.04 272.15 191.99 Q271.61 181.69 281.91 177.9 Q285.71 168.41 300.34 170.85 Z" fill="none" stroke="#d58f8e" stroke-width="1.15" stroke-linejoin="round"/>
<text x="256.2" y="71.6" font-size="22.57" font-weight="normal" fill="#000" text-anchor="start" textLength="105.6" lengthAdjust="spacingAndGlyphs" stroke="#000" stroke-width="0.35">Day 10-31</text>
<rect x="303.95" y="68.52" width="4.49" height="4.48" fill="#fff"/><rect x="311.52" y="68.52" width="4.68" height="4.48" fill="#fff"/>
<rect x="349.76" y="68.52" width="4.49" height="4.48" fill="#fff"/><rect x="357.33" y="68.52" width="4.68" height="4.48" fill="#fff"/>
<text x="256.6" y="277" font-size="22.57" font-weight="normal" fill="#000" text-anchor="start" textLength="101.6" lengthAdjust="spacingAndGlyphs" stroke="#000" stroke-width="0.35">Day 10-50</text>
<rect x="302.54" y="273.92" width="4.31" height="4.48" fill="#fff"/><rect x="309.84" y="273.92" width="4.48" height="4.48" fill="#fff"/>
<text x="80.4" y="258.9" font-size="26.42" font-weight="normal" fill="#000" text-anchor="start" textLength="104.2" lengthAdjust="spacingAndGlyphs" stroke="#000" stroke-width="0.35">Day 0-10</text>
<rect x="156.81" y="255.39" width="5.1" height="4.91" fill="#fff"/><rect x="165.24" y="255.39" width="5.3" height="4.91" fill="#fff"/>
<path d="M18 271.3 H248.2 M224 258 L248.6 271.3 L224 285" fill="none" stroke="#000" stroke-width="2.5" stroke-linejoin="miter"/>
</g>
<g id="panel2">
<polygon points="657,59.5 702.7,59.5 702.7,102.4 684.6,113.9 642.7,113.9 642.7,70" fill="#f3f3f3" stroke="#d9d9d9" stroke-width="0.8" stroke-linejoin="round"/>
<polygon points="642.7,70 657,59.5 702.7,59.5 684.6,70" fill="#f7f7f7" stroke="#d9d9d9" stroke-width="0.6" stroke-linejoin="round"/>
<polygon points="684.6,70 702.7,59.5 702.7,102.4 684.6,113.9" fill="#eeeeee" stroke="#d9d9d9" stroke-width="0.6" stroke-linejoin="round"/>
<polygon points="642.7,70 684.6,70 684.6,113.9 642.7,113.9" fill="#f2f2f2" stroke="#d9d9d9" stroke-width="0.6" stroke-linejoin="round"/>
<radialGradient id="og3" cx="0.40" cy="0.36" r="0.72"><stop offset="0" stop-color="#edd7d6"/><stop offset="0.62" stop-color="#edd7d6"/><stop offset="1" stop-color="#e8c9c9"/></radialGradient>
<g>
<path d="M687.71 89.37 A5.3 5.3 0 0 1 685.57 96.35 A6.13 6.13 0 0 1 679.29 102.01 A7.1 7.1 0 0 1 669.89 104.77 A5.47 5.47 0 0 1 662.69 102.51 A5.31 5.31 0 0 1 657.88 96.98 A5.63 5.63 0 0 1 654.89 89.82 A7.4 7.4 0 0 1 656.87 79.8 A5.45 5.45 0 0 1 662.07 74.37 A7.33 7.33 0 0 1 671.79 71.58 A6.99 6.99 0 0 1 680.76 75.1 A5.35 5.35 0 0 1 686 80.3 A6.69 6.69 0 0 1 687.71 89.37 Z" fill="url(#og3)" stroke="#dfb9b9" stroke-width="0.8" stroke-linejoin="round"/>
</g>
<circle cx="667.3" cy="83.1" r="6" fill="#f1dbda" opacity="0.55"/>
<circle cx="676.3" cy="86.1" r="5.5" fill="#f1dbda" opacity="0.55"/>
<circle cx="670.3" cy="94.1" r="6" fill="#f1dbda" opacity="0.55"/>
<polygon points="769,101.5 775,102.5 779,108 779,204.5 755.2,221.6 755.2,150" fill="#d3d1cc" stroke="#b9b7b2" stroke-width="0.5" stroke-linejoin="round"/>
<polygon points="746,125 779,107.5 779,170 755,170" fill="#d3d1cc" stroke="none" stroke-width="0" stroke-linejoin="round"/>
<polygon points="696,148 755.2,152 755.2,221.6 745.5,216.5 742.5,210.8 709,204.2 706.2,208 696,206" fill="#e0ded9" stroke="#b9b7b2" stroke-width="0.5" stroke-linejoin="round"/>
<polygon points="682.7,141.5 696,150 755.2,154 755.2,144 741,136" fill="#c9c7c2" stroke="none" stroke-width="0" stroke-linejoin="round"/>
<polygon points="682.7,121 741,127.5 748,124 755.2,126 755.2,145 741,137.5 682.7,141.5" fill="#e0ded9" stroke="#b9b7b2" stroke-width="0.5" stroke-linejoin="round"/>
<polygon points="682.7,121 706,108.5 768,108.5 779,108 748,124.5 741,127.8" fill="#ecebe7" stroke="#b9b7b2" stroke-width="0.5" stroke-linejoin="round"/>
<path d="M708 110 L710.5 103.5 Q711.5 101.2 714.5 101.2 L766 101.2 Q770 101.2 773 103.2 L779 108 L755 110 Z" fill="#ecebe7" stroke="#b9b7b2" stroke-width="0.5"/>
<polygon points="710.5,104.2 760,104.2 757,110.6 707.2,110" fill="#f4f3f0" stroke="#c9c7c2" stroke-width="0.4" stroke-linejoin="round"/>
<rect x="712.5" y="105.6" width="3.4" height="1.5" fill="#3f3f42"/>
<rect x="718.5" y="105.6" width="3.4" height="1.5" fill="#3f3f42"/>
<rect x="724.5" y="105.6" width="3.4" height="1.5" fill="#3f3f42"/>
<rect x="730.5" y="105.6" width="3.4" height="1.5" fill="#3f3f42"/>
<rect x="737.5" y="105.6" width="3.4" height="1.5" fill="#3f3f42"/>
<rect x="745" y="105.3" width="8" height="3.6" fill="#fafafa" stroke="#cfcfcf" stroke-width="0.3"/>
<circle cx="756.4" cy="108" r="2.2" fill="#e8c64a"/><circle cx="756.4" cy="108" r="1.4" fill="#d8312b"/>
<polygon points="699,121.6 709.6,116.6 742.9,117.6 740,123.6" fill="#1f4f95" stroke="#6f88ad" stroke-width="0.6" stroke-linejoin="round"/>
<polygon points="702.5,121.2 710.2,117.6 741,118.5 739.4,121.9" fill="#2f6db8" stroke="none" stroke-width="0" stroke-linejoin="round"/>
<ellipse cx="750.6" cy="138" rx="6.6" ry="12.4" fill="#d4d2cd" stroke="#aeaca7" stroke-width="0.6"/>
<ellipse cx="752" cy="138" rx="5.2" ry="11" fill="#e3e1dc"/>
<rect x="752.5" y="128.6" width="7.4" height="3.2" rx="1.5" fill="#3c3c3e"/>
<rect x="722.8" y="163.5" width="11.6" height="14.4" fill="#bab8b3" stroke="#a3a19c" stroke-width="0.5"/>
<rect x="724.6" y="165.5" width="8" height="10.4" fill="#d9d9d7"/>
<rect x="727.6" y="167.3" width="4.6" height="6" fill="#2e8f86"/>
<rect x="726.2" y="169" width="2.6" height="3.4" fill="#4a4a4a"/>
<rect x="740.8" y="189" width="9.8" height="21.4" fill="#bfbdb8" stroke="#a9a7a2" stroke-width="0.5"/>
<path d="M743.2 209.6 V197.5 L744.6 195.6 V192.4 H747.2 V195.6 L748.8 197.5 V209.6 Z" fill="#e9e9ea" stroke="#c2c2c4" stroke-width="0.4"/>
<rect x="791" y="103.2" width="189.3" height="62.3" fill="#dfe4ee" stroke="#a7b3c6" stroke-width="1"/>
<rect x="791" y="103.2" width="52.3" height="62.3" fill="#c6cfdc" stroke="#a7b3c6" stroke-width="1"/>
<rect x="791.5" y="103.6" width="188.3" height="2.2" fill="#c9d3e2" opacity="0.8"/>
<rect x="791" y="162.3" width="189.3" height="3.2" fill="#b3bfd1"/>
<rect x="791" y="103.2" width="2.4" height="62.3" fill="#b3bfd1" opacity="0.8"/>
<rect x="977.6" y="103.2" width="2.7" height="62.3" fill="#c3cddd" opacity="0.9"/>
<path d="M869.8 139.5 C870.5 126 877 113 886.5 108.6 C897 104.6 916 105.6 926 108.2 C936 111.5 942.6 125 942.2 138.5 C941.6 148.5 935.5 155 927 157.8 C918 160.6 907 161 897.5 160.4 C887 159.4 878.5 154.5 874.5 148.5 C871.8 145 869.8 142.5 869.8 139.5 Z" fill="#eadde3" stroke="#d2aab0" stroke-width="0.9"/>
<circle cx="919.2" cy="137.4" r="16.8" fill="#e8b1ac"/>
<circle cx="923.05" cy="141.73" r="1.35" fill="#e3a19b"/>
<circle cx="920.96" cy="142.93" r="1.35" fill="#de9691"/>
<circle cx="918.56" cy="143.16" r="1.35" fill="#de9691"/>
<circle cx="916.27" cy="142.41" r="1.35" fill="#e3a19b"/>
<circle cx="914.49" cy="140.78" r="1.35" fill="#de9691"/>
<circle cx="913.52" cy="138.57" r="1.35" fill="#de9691"/>
<circle cx="913.53" cy="136.16" r="1.35" fill="#e3a19b"/>
<circle cx="914.53" cy="133.96" r="1.35" fill="#de9691"/>
<circle cx="916.33" cy="132.36" r="1.35" fill="#de9691"/>
<circle cx="918.63" cy="131.63" r="1.35" fill="#e3a19b"/>
<circle cx="921.03" cy="131.89" r="1.35" fill="#de9691"/>
<circle cx="923.11" cy="133.11" r="1.35" fill="#de9691"/>
<circle cx="924.51" cy="135.07" r="1.35" fill="#e3a19b"/>
<circle cx="925" cy="137.44" r="1.35" fill="#de9691"/>
<circle cx="924.48" cy="139.79" r="1.35" fill="#de9691"/>
<circle cx="923.69" cy="130.96" r="1.35" fill="#de9691"/>
<circle cx="925.46" cy="132.67" r="1.35" fill="#de9691"/>
<circle cx="926.62" cy="134.83" r="1.35" fill="#e3a19b"/>
<circle cx="927.05" cy="137.25" r="1.35" fill="#de9691"/>
<circle cx="926.71" cy="139.68" r="1.35" fill="#de9691"/>
<circle cx="925.64" cy="141.89" r="1.35" fill="#e3a19b"/>
<circle cx="923.93" cy="143.66" r="1.35" fill="#de9691"/>
<circle cx="921.77" cy="144.82" r="1.35" fill="#de9691"/>
<circle cx="919.35" cy="145.25" r="1.35" fill="#e3a19b"/>
<circle cx="916.92" cy="144.91" r="1.35" fill="#de9691"/>
<circle cx="914.71" cy="143.84" r="1.35" fill="#de9691"/>
<circle cx="912.94" cy="142.13" r="1.35" fill="#e3a19b"/>
<circle cx="911.78" cy="139.97" r="1.35" fill="#de9691"/>
<circle cx="911.35" cy="137.55" r="1.35" fill="#de9691"/>
<circle cx="911.69" cy="135.12" r="1.35" fill="#e3a19b"/>
<circle cx="912.76" cy="132.91" r="1.35" fill="#de9691"/>
<circle cx="914.47" cy="131.14" r="1.35" fill="#de9691"/>
<circle cx="916.63" cy="129.98" r="1.35" fill="#e3a19b"/>
<circle cx="919.05" cy="129.55" r="1.35" fill="#de9691"/>
<circle cx="921.48" cy="129.89" r="1.35" fill="#de9691"/>
<circle cx="920.03" cy="127.54" r="1.35" fill="#de9691"/>
<circle cx="922.37" cy="128.02" r="1.35" fill="#e3a19b"/>
<circle cx="924.52" cy="129.05" r="1.35" fill="#de9691"/>
<circle cx="926.36" cy="130.57" r="1.35" fill="#de9691"/>
<circle cx="927.79" cy="132.48" r="1.35" fill="#e3a19b"/>
<circle cx="928.72" cy="134.68" r="1.35" fill="#de9691"/>
<circle cx="929.09" cy="137.04" r="1.35" fill="#de9691"/>
<circle cx="928.89" cy="139.41" r="1.35" fill="#e3a19b"/>
<circle cx="928.13" cy="141.68" r="1.35" fill="#de9691"/>
<circle cx="926.85" cy="143.69" r="1.35" fill="#de9691"/>
<circle cx="925.12" cy="145.34" r="1.35" fill="#e3a19b"/>
<circle cx="923.05" cy="146.52" r="1.35" fill="#de9691"/>
<circle cx="920.75" cy="147.18" r="1.35" fill="#de9691"/>
<circle cx="918.37" cy="147.26" r="1.35" fill="#e3a19b"/>
<circle cx="916.03" cy="146.78" r="1.35" fill="#de9691"/>
<circle cx="913.88" cy="145.75" r="1.35" fill="#de9691"/>
<circle cx="912.04" cy="144.23" r="1.35" fill="#e3a19b"/>
<circle cx="910.61" cy="142.32" r="1.35" fill="#de9691"/>
<circle cx="909.68" cy="140.12" r="1.35" fill="#de9691"/>
<circle cx="909.31" cy="137.76" r="1.35" fill="#e3a19b"/>
<circle cx="909.51" cy="135.39" r="1.35" fill="#de9691"/>
<circle cx="910.27" cy="133.12" r="1.35" fill="#de9691"/>
<circle cx="911.55" cy="131.11" r="1.35" fill="#e3a19b"/>
<circle cx="913.28" cy="129.46" r="1.35" fill="#de9691"/>
<circle cx="915.35" cy="128.28" r="1.35" fill="#de9691"/>
<circle cx="917.65" cy="127.62" r="1.35" fill="#e3a19b"/>
<circle cx="918.83" cy="149.34" r="1.35" fill="#e3a19b"/>
<circle cx="916.43" cy="149.03" r="1.35" fill="#de9691"/>
<circle cx="914.15" cy="148.23" r="1.35" fill="#de9691"/>
<circle cx="912.07" cy="146.99" r="1.35" fill="#e3a19b"/>
<circle cx="910.29" cy="145.36" r="1.35" fill="#de9691"/>
<circle cx="908.87" cy="143.4" r="1.35" fill="#de9691"/>
<circle cx="907.87" cy="141.2" r="1.35" fill="#e3a19b"/>
<circle cx="907.34" cy="138.84" r="1.35" fill="#de9691"/>
<circle cx="907.29" cy="136.42" r="1.35" fill="#de9691"/>
<circle cx="907.73" cy="134.05" r="1.35" fill="#e3a19b"/>
<circle cx="908.64" cy="131.81" r="1.35" fill="#de9691"/>
<circle cx="909.98" cy="129.8" r="1.35" fill="#de9691"/>
<circle cx="911.7" cy="128.1" r="1.35" fill="#e3a19b"/>
<circle cx="913.73" cy="126.78" r="1.35" fill="#de9691"/>
<circle cx="915.98" cy="125.89" r="1.35" fill="#de9691"/>
<circle cx="918.36" cy="125.48" r="1.35" fill="#e3a19b"/>
<circle cx="920.78" cy="125.55" r="1.35" fill="#de9691"/>
<circle cx="923.13" cy="126.11" r="1.35" fill="#de9691"/>
<circle cx="925.32" cy="127.14" r="1.35" fill="#e3a19b"/>
<circle cx="927.26" cy="128.58" r="1.35" fill="#de9691"/>
<circle cx="928.87" cy="130.38" r="1.35" fill="#de9691"/>
<circle cx="930.09" cy="132.47" r="1.35" fill="#e3a19b"/>
<circle cx="930.86" cy="134.77" r="1.35" fill="#de9691"/>
<circle cx="931.15" cy="137.17" r="1.35" fill="#de9691"/>
<circle cx="930.95" cy="139.58" r="1.35" fill="#e3a19b"/>
<circle cx="930.27" cy="141.9" r="1.35" fill="#de9691"/>
<circle cx="929.14" cy="144.03" r="1.35" fill="#de9691"/>
<circle cx="927.6" cy="145.9" r="1.35" fill="#e3a19b"/>
<circle cx="925.72" cy="147.42" r="1.35" fill="#de9691"/>
<circle cx="923.57" cy="148.52" r="1.35" fill="#de9691"/>
<circle cx="921.24" cy="149.17" r="1.35" fill="#e3a19b"/>
<circle cx="905.21" cy="137.82" r="1.35" fill="#de9691"/>
<circle cx="905.34" cy="135.45" r="1.35" fill="#de9691"/>
<circle cx="905.86" cy="133.14" r="1.35" fill="#e3a19b"/>
<circle cx="906.78" cy="130.95" r="1.35" fill="#de9691"/>
<circle cx="908.05" cy="128.94" r="1.35" fill="#de9691"/>
<circle cx="909.64" cy="127.18" r="1.35" fill="#e3a19b"/>
<circle cx="911.5" cy="125.71" r="1.35" fill="#de9691"/>
<circle cx="913.59" cy="124.57" r="1.35" fill="#de9691"/>
<circle cx="915.84" cy="123.81" r="1.35" fill="#e3a19b"/>
<circle cx="918.18" cy="123.44" r="1.35" fill="#de9691"/>
<circle cx="920.56" cy="123.47" r="1.35" fill="#de9691"/>
<circle cx="922.89" cy="123.9" r="1.35" fill="#e3a19b"/>
<circle cx="925.12" cy="124.71" r="1.35" fill="#de9691"/>
<circle cx="927.18" cy="125.9" r="1.35" fill="#de9691"/>
<circle cx="929.01" cy="127.41" r="1.35" fill="#e3a19b"/>
<circle cx="930.56" cy="129.21" r="1.35" fill="#de9691"/>
<circle cx="931.78" cy="131.25" r="1.35" fill="#de9691"/>
<circle cx="932.64" cy="133.46" r="1.35" fill="#e3a19b"/>
<circle cx="933.11" cy="135.79" r="1.35" fill="#de9691"/>
<circle cx="933.18" cy="138.16" r="1.35" fill="#de9691"/>
<circle cx="932.85" cy="140.52" r="1.35" fill="#e3a19b"/>
<circle cx="932.13" cy="142.78" r="1.35" fill="#de9691"/>
<circle cx="931.03" cy="144.89" r="1.35" fill="#de9691"/>
<circle cx="929.6" cy="146.78" r="1.35" fill="#e3a19b"/>
<circle cx="927.86" cy="148.4" r="1.35" fill="#de9691"/>
<circle cx="925.88" cy="149.7" r="1.35" fill="#de9691"/>
<circle cx="923.7" cy="150.66" r="1.35" fill="#e3a19b"/>
<circle cx="921.4" cy="151.23" r="1.35" fill="#de9691"/>
<circle cx="919.03" cy="151.4" r="1.35" fill="#de9691"/>
<circle cx="916.67" cy="151.17" r="1.35" fill="#e3a19b"/>
<circle cx="914.38" cy="150.54" r="1.35" fill="#de9691"/>
<circle cx="912.22" cy="149.54" r="1.35" fill="#de9691"/>
<circle cx="910.27" cy="148.18" r="1.35" fill="#e3a19b"/>
<circle cx="908.58" cy="146.52" r="1.35" fill="#de9691"/>
<circle cx="907.19" cy="144.59" r="1.35" fill="#de9691"/>
<circle cx="906.15" cy="142.46" r="1.35" fill="#e3a19b"/>
<circle cx="905.48" cy="140.18" r="1.35" fill="#de9691"/>
<circle cx="903.96" cy="142.43" r="1.35" fill="#de9691"/>
<circle cx="903.38" cy="140.1" r="1.35" fill="#e3a19b"/>
<circle cx="903.15" cy="137.71" r="1.35" fill="#de9691"/>
<circle cx="903.29" cy="135.32" r="1.35" fill="#de9691"/>
<circle cx="903.77" cy="132.97" r="1.35" fill="#e3a19b"/>
<circle cx="904.61" cy="130.72" r="1.35" fill="#de9691"/>
<circle cx="905.76" cy="128.62" r="1.35" fill="#de9691"/>
<circle cx="907.22" cy="126.72" r="1.35" fill="#e3a19b"/>
<circle cx="908.95" cy="125.05" r="1.35" fill="#de9691"/>
<circle cx="910.9" cy="123.66" r="1.35" fill="#de9691"/>
<circle cx="913.04" cy="122.58" r="1.35" fill="#e3a19b"/>
<circle cx="915.32" cy="121.83" r="1.35" fill="#de9691"/>
<circle cx="917.69" cy="121.42" r="1.35" fill="#de9691"/>
<circle cx="920.09" cy="121.37" r="1.35" fill="#e3a19b"/>
<circle cx="922.46" cy="121.69" r="1.35" fill="#de9691"/>
<circle cx="924.77" cy="122.35" r="1.35" fill="#de9691"/>
<circle cx="926.95" cy="123.35" r="1.35" fill="#e3a19b"/>
<circle cx="928.96" cy="124.66" r="1.35" fill="#de9691"/>
<circle cx="930.75" cy="126.25" r="1.35" fill="#de9691"/>
<circle cx="932.28" cy="128.1" r="1.35" fill="#e3a19b"/>
<circle cx="933.52" cy="130.15" r="1.35" fill="#de9691"/>
<circle cx="934.44" cy="132.37" r="1.35" fill="#de9691"/>
<circle cx="935.02" cy="134.7" r="1.35" fill="#e3a19b"/>
<circle cx="935.25" cy="137.09" r="1.35" fill="#de9691"/>
<circle cx="935.11" cy="139.48" r="1.35" fill="#de9691"/>
<circle cx="934.63" cy="141.83" r="1.35" fill="#e3a19b"/>
<circle cx="933.79" cy="144.08" r="1.35" fill="#de9691"/>
<circle cx="932.64" cy="146.18" r="1.35" fill="#de9691"/>
<circle cx="931.18" cy="148.08" r="1.35" fill="#e3a19b"/>
<circle cx="929.45" cy="149.75" r="1.35" fill="#de9691"/>
<circle cx="927.5" cy="151.14" r="1.35" fill="#de9691"/>
<circle cx="925.36" cy="152.22" r="1.35" fill="#e3a19b"/>
<circle cx="923.08" cy="152.97" r="1.35" fill="#de9691"/>
<circle cx="920.71" cy="153.38" r="1.35" fill="#de9691"/>
<circle cx="918.31" cy="153.43" r="1.35" fill="#e3a19b"/>
<circle cx="915.94" cy="153.11" r="1.35" fill="#de9691"/>
<circle cx="913.63" cy="152.45" r="1.35" fill="#de9691"/>
<circle cx="911.45" cy="151.45" r="1.35" fill="#e3a19b"/>
<circle cx="909.44" cy="150.14" r="1.35" fill="#de9691"/>
<circle cx="907.65" cy="148.55" r="1.35" fill="#de9691"/>
<circle cx="906.12" cy="146.7" r="1.35" fill="#e3a19b"/>
<circle cx="904.88" cy="144.65" r="1.35" fill="#de9691"/>
<circle cx="919.2" cy="137.4" r="4.6" fill="#f5eaee"/>
<circle cx="889.8" cy="140.8" r="12.2" fill="#e8b1ac"/>
<circle cx="894.13" cy="139.56" r="1.35" fill="#e3a19b"/>
<circle cx="894.17" cy="141.89" r="1.35" fill="#de9691"/>
<circle cx="893.04" cy="143.93" r="1.35" fill="#de9691"/>
<circle cx="891.04" cy="145.13" r="1.35" fill="#e3a19b"/>
<circle cx="888.71" cy="145.17" r="1.35" fill="#de9691"/>
<circle cx="886.67" cy="144.04" r="1.35" fill="#de9691"/>
<circle cx="885.47" cy="142.04" r="1.35" fill="#e3a19b"/>
<circle cx="885.43" cy="139.71" r="1.35" fill="#de9691"/>
<circle cx="886.56" cy="137.67" r="1.35" fill="#de9691"/>
<circle cx="888.56" cy="136.47" r="1.35" fill="#e3a19b"/>
<circle cx="890.89" cy="136.43" r="1.35" fill="#de9691"/>
<circle cx="892.93" cy="137.56" r="1.35" fill="#de9691"/>
<circle cx="895.99" cy="138.67" r="1.35" fill="#de9691"/>
<circle cx="896.35" cy="141.05" r="1.35" fill="#de9691"/>
<circle cx="895.81" cy="143.4" r="1.35" fill="#e3a19b"/>
<circle cx="894.47" cy="145.4" r="1.35" fill="#de9691"/>
<circle cx="892.49" cy="146.77" r="1.35" fill="#de9691"/>
<circle cx="890.15" cy="147.34" r="1.35" fill="#e3a19b"/>
<circle cx="887.76" cy="147.03" r="1.35" fill="#de9691"/>
<circle cx="885.65" cy="145.87" r="1.35" fill="#de9691"/>
<circle cx="884.1" cy="144.03" r="1.35" fill="#e3a19b"/>
<circle cx="883.32" cy="141.75" r="1.35" fill="#de9691"/>
<circle cx="883.41" cy="139.35" r="1.35" fill="#de9691"/>
<circle cx="884.37" cy="137.14" r="1.35" fill="#e3a19b"/>
<circle cx="886.06" cy="135.42" r="1.35" fill="#de9691"/>
<circle cx="888.25" cy="134.44" r="1.35" fill="#de9691"/>
<circle cx="890.66" cy="134.31" r="1.35" fill="#e3a19b"/>
<circle cx="892.94" cy="135.05" r="1.35" fill="#de9691"/>
<circle cx="894.81" cy="136.58" r="1.35" fill="#de9691"/>
<circle cx="897.86" cy="143.79" r="1.35" fill="#de9691"/>
<circle cx="896.69" cy="145.94" r="1.35" fill="#e3a19b"/>
<circle cx="894.97" cy="147.68" r="1.35" fill="#de9691"/>
<circle cx="892.82" cy="148.85" r="1.35" fill="#de9691"/>
<circle cx="890.43" cy="149.38" r="1.35" fill="#e3a19b"/>
<circle cx="887.99" cy="149.21" r="1.35" fill="#de9691"/>
<circle cx="885.69" cy="148.36" r="1.35" fill="#de9691"/>
<circle cx="883.73" cy="146.89" r="1.35" fill="#e3a19b"/>
<circle cx="882.26" cy="144.94" r="1.35" fill="#de9691"/>
<circle cx="881.4" cy="142.64" r="1.35" fill="#de9691"/>
<circle cx="881.22" cy="140.2" r="1.35" fill="#e3a19b"/>
<circle cx="881.74" cy="137.81" r="1.35" fill="#de9691"/>
<circle cx="882.91" cy="135.66" r="1.35" fill="#de9691"/>
<circle cx="884.63" cy="133.92" r="1.35" fill="#e3a19b"/>
<circle cx="886.78" cy="132.75" r="1.35" fill="#de9691"/>
<circle cx="889.17" cy="132.22" r="1.35" fill="#de9691"/>
<circle cx="891.61" cy="132.39" r="1.35" fill="#e3a19b"/>
<circle cx="893.91" cy="133.24" r="1.35" fill="#de9691"/>
<circle cx="895.87" cy="134.71" r="1.35" fill="#de9691"/>
<circle cx="897.34" cy="136.66" r="1.35" fill="#e3a19b"/>
<circle cx="898.2" cy="138.96" r="1.35" fill="#de9691"/>
<circle cx="898.38" cy="141.4" r="1.35" fill="#de9691"/>
<circle cx="898.97" cy="146.21" r="1.35" fill="#e3a19b"/>
<circle cx="897.54" cy="148.12" r="1.35" fill="#de9691"/>
<circle cx="895.72" cy="149.66" r="1.35" fill="#de9691"/>
<circle cx="893.6" cy="150.75" r="1.35" fill="#e3a19b"/>
<circle cx="891.29" cy="151.35" r="1.35" fill="#de9691"/>
<circle cx="888.9" cy="151.41" r="1.35" fill="#de9691"/>
<circle cx="886.57" cy="150.95" r="1.35" fill="#e3a19b"/>
<circle cx="884.39" cy="149.97" r="1.35" fill="#de9691"/>
<circle cx="882.48" cy="148.54" r="1.35" fill="#de9691"/>
<circle cx="880.94" cy="146.72" r="1.35" fill="#e3a19b"/>
<circle cx="879.85" cy="144.6" r="1.35" fill="#de9691"/>
<circle cx="879.25" cy="142.29" r="1.35" fill="#de9691"/>
<circle cx="879.19" cy="139.9" r="1.35" fill="#e3a19b"/>
<circle cx="879.65" cy="137.57" r="1.35" fill="#de9691"/>
<circle cx="880.63" cy="135.39" r="1.35" fill="#de9691"/>
<circle cx="882.06" cy="133.48" r="1.35" fill="#e3a19b"/>
<circle cx="883.88" cy="131.94" r="1.35" fill="#de9691"/>
<circle cx="886" cy="130.85" r="1.35" fill="#de9691"/>
<circle cx="888.31" cy="130.25" r="1.35" fill="#e3a19b"/>
<circle cx="890.7" cy="130.19" r="1.35" fill="#de9691"/>
<circle cx="893.03" cy="130.65" r="1.35" fill="#de9691"/>
<circle cx="895.21" cy="131.63" r="1.35" fill="#e3a19b"/>
<circle cx="897.12" cy="133.06" r="1.35" fill="#de9691"/>
<circle cx="898.66" cy="134.88" r="1.35" fill="#de9691"/>
<circle cx="899.75" cy="137" r="1.35" fill="#e3a19b"/>
<circle cx="900.35" cy="139.31" r="1.35" fill="#de9691"/>
<circle cx="900.41" cy="141.7" r="1.35" fill="#de9691"/>
<circle cx="899.95" cy="144.03" r="1.35" fill="#e3a19b"/>
<circle cx="896.27" cy="129.87" r="1.35" fill="#de9691"/>
<circle cx="898.22" cy="131.29" r="1.35" fill="#de9691"/>
<circle cx="899.87" cy="133.06" r="1.35" fill="#e3a19b"/>
<circle cx="901.15" cy="135.1" r="1.35" fill="#de9691"/>
<circle cx="902.02" cy="137.36" r="1.35" fill="#de9691"/>
<circle cx="902.45" cy="139.73" r="1.35" fill="#e3a19b"/>
<circle cx="902.43" cy="142.15" r="1.35" fill="#de9691"/>
<circle cx="901.95" cy="144.51" r="1.35" fill="#de9691"/>
<circle cx="901.02" cy="146.74" r="1.35" fill="#e3a19b"/>
<circle cx="899.7" cy="148.76" r="1.35" fill="#de9691"/>
<circle cx="898.01" cy="150.49" r="1.35" fill="#de9691"/>
<circle cx="896.03" cy="151.87" r="1.35" fill="#e3a19b"/>
<circle cx="893.82" cy="152.85" r="1.35" fill="#de9691"/>
<circle cx="891.47" cy="153.39" r="1.35" fill="#de9691"/>
<circle cx="889.06" cy="153.48" r="1.35" fill="#e3a19b"/>
<circle cx="886.67" cy="153.11" r="1.35" fill="#de9691"/>
<circle cx="884.4" cy="152.29" r="1.35" fill="#de9691"/>
<circle cx="882.32" cy="151.06" r="1.35" fill="#e3a19b"/>
<circle cx="880.51" cy="149.46" r="1.35" fill="#de9691"/>
<circle cx="879.04" cy="147.55" r="1.35" fill="#de9691"/>
<circle cx="877.96" cy="145.39" r="1.35" fill="#e3a19b"/>
<circle cx="877.3" cy="143.07" r="1.35" fill="#de9691"/>
<circle cx="877.1" cy="140.66" r="1.35" fill="#de9691"/>
<circle cx="877.36" cy="138.26" r="1.35" fill="#e3a19b"/>
<circle cx="878.06" cy="135.95" r="1.35" fill="#de9691"/>
<circle cx="879.19" cy="133.82" r="1.35" fill="#de9691"/>
<circle cx="880.71" cy="131.94" r="1.35" fill="#e3a19b"/>
<circle cx="882.55" cy="130.37" r="1.35" fill="#de9691"/>
<circle cx="884.65" cy="129.19" r="1.35" fill="#de9691"/>
<circle cx="886.94" cy="128.43" r="1.35" fill="#e3a19b"/>
<circle cx="889.33" cy="128.11" r="1.35" fill="#de9691"/>
<circle cx="891.74" cy="128.25" r="1.35" fill="#de9691"/>
<circle cx="894.08" cy="128.84" r="1.35" fill="#e3a19b"/>
<circle cx="889.8" cy="140.8" r="3.3" fill="#f5eaee"/>
<circle cx="894" cy="117.6" r="8.4" fill="#e8b1ac"/>
<circle cx="894.31" cy="121.59" r="1.35" fill="#e3a19b"/>
<circle cx="891.9" cy="121.01" r="1.35" fill="#de9691"/>
<circle cx="890.3" cy="119.12" r="1.35" fill="#de9691"/>
<circle cx="890.11" cy="116.66" r="1.35" fill="#e3a19b"/>
<circle cx="891.41" cy="114.55" r="1.35" fill="#de9691"/>
<circle cx="893.69" cy="113.61" r="1.35" fill="#de9691"/>
<circle cx="896.1" cy="114.19" r="1.35" fill="#e3a19b"/>
<circle cx="897.7" cy="116.08" r="1.35" fill="#de9691"/>
<circle cx="897.89" cy="118.54" r="1.35" fill="#de9691"/>
<circle cx="896.59" cy="120.65" r="1.35" fill="#e3a19b"/>
<circle cx="888.18" cy="115.95" r="1.35" fill="#de9691"/>
<circle cx="889.25" cy="113.85" r="1.35" fill="#de9691"/>
<circle cx="891.05" cy="112.32" r="1.35" fill="#e3a19b"/>
<circle cx="893.3" cy="111.59" r="1.35" fill="#de9691"/>
<circle cx="895.65" cy="111.78" r="1.35" fill="#de9691"/>
<circle cx="897.75" cy="112.85" r="1.35" fill="#e3a19b"/>
<circle cx="899.28" cy="114.65" r="1.35" fill="#de9691"/>
<circle cx="900.01" cy="116.9" r="1.35" fill="#de9691"/>
<circle cx="899.82" cy="119.25" r="1.35" fill="#e3a19b"/>
<circle cx="898.75" cy="121.35" r="1.35" fill="#de9691"/>
<circle cx="896.95" cy="122.88" r="1.35" fill="#de9691"/>
<circle cx="894.7" cy="123.61" r="1.35" fill="#e3a19b"/>
<circle cx="892.35" cy="123.42" r="1.35" fill="#de9691"/>
<circle cx="890.25" cy="122.35" r="1.35" fill="#de9691"/>
<circle cx="888.72" cy="120.55" r="1.35" fill="#e3a19b"/>
<circle cx="887.99" cy="118.3" r="1.35" fill="#de9691"/>
<circle cx="888.46" cy="123.51" r="1.35" fill="#de9691"/>
<circle cx="886.97" cy="121.62" r="1.35" fill="#e3a19b"/>
<circle cx="886.1" cy="119.37" r="1.35" fill="#de9691"/>
<circle cx="885.93" cy="116.96" r="1.35" fill="#de9691"/>
<circle cx="886.47" cy="114.61" r="1.35" fill="#e3a19b"/>
<circle cx="887.69" cy="112.52" r="1.35" fill="#de9691"/>
<circle cx="889.47" cy="110.89" r="1.35" fill="#de9691"/>
<circle cx="891.65" cy="109.85" r="1.35" fill="#e3a19b"/>
<circle cx="894.04" cy="109.5" r="1.35" fill="#de9691"/>
<circle cx="896.42" cy="109.87" r="1.35" fill="#de9691"/>
<circle cx="898.59" cy="110.93" r="1.35" fill="#e3a19b"/>
<circle cx="900.36" cy="112.58" r="1.35" fill="#de9691"/>
<circle cx="901.55" cy="114.67" r="1.35" fill="#de9691"/>
<circle cx="902.08" cy="117.03" r="1.35" fill="#e3a19b"/>
<circle cx="901.89" cy="119.44" r="1.35" fill="#de9691"/>
<circle cx="901" cy="121.68" r="1.35" fill="#de9691"/>
<circle cx="899.48" cy="123.56" r="1.35" fill="#e3a19b"/>
<circle cx="897.48" cy="124.91" r="1.35" fill="#de9691"/>
<circle cx="895.17" cy="125.61" r="1.35" fill="#de9691"/>
<circle cx="892.76" cy="125.6" r="1.35" fill="#e3a19b"/>
<circle cx="890.45" cy="124.88" r="1.35" fill="#de9691"/>
<circle cx="894" cy="117.6" r="2.8" fill="#f5eaee"/>
<text x="845.4" y="198.6" font-size="26.31" font-weight="normal" fill="#000" text-anchor="start" textLength="73" lengthAdjust="spacingAndGlyphs" stroke="#000" stroke-width="0.35">10 µm</text>
<rect x="846.18" y="195.11" width="5.18" height="4.89" fill="#fff"/><rect x="854.74" y="195.11" width="5.39" height="4.89" fill="#fff"/>
<text x="842.2" y="229.2" font-size="26.31" font-weight="normal" fill="#000" text-anchor="start" textLength="81.2" lengthAdjust="spacingAndGlyphs" stroke="#000" stroke-width="0.35">section</text>
<text x="674.3" y="282" font-size="26.52" font-weight="normal" fill="#000" text-anchor="start" textLength="96" lengthAdjust="spacingAndGlyphs" stroke="#000" stroke-width="0.35">Cryostat</text>
<path d="M724.4 244.8 H908.2 M883.3 231.3 L908.6 244.8 L883.3 258.7" fill="none" stroke="#000" stroke-width="2.5"/>
</g>
<g id="panel3">
<text x="22.5" y="581.4" font-size="5.82" font-weight="bold" fill="#111" text-anchor="start" textLength="34.5" lengthAdjust="spacingAndGlyphs">N-CADHERIN</text>
<text x="66.6" y="581.4" font-size="5.82" font-weight="bold" fill="#111" text-anchor="start" textLength="16.3" lengthAdjust="spacingAndGlyphs">PHH3</text>
<text x="86.8" y="581.4" font-size="5.82" font-weight="bold" fill="#111" text-anchor="start" textLength="16.3" lengthAdjust="spacingAndGlyphs">P-VIM</text>
<text x="124.7" y="581.4" font-size="5.82" font-weight="bold" fill="#111" text-anchor="start" textLength="13.2" lengthAdjust="spacingAndGlyphs">SOX2</text>
<g transform="translate(39.2 583) rotate(0 0 18.2) scale(0.91 1.01)">
<path d="M-2.15 9.9 H-0.6 V18 H-2.15 Z M-2.15 10.3 L-0.6 9.5 L-5.55 0.9 L-7.05 1.75 Z M-4.55 7.7 L-5.85 8.5 L-9.2 3 L-7.9 2.2 Z" fill="#f8dada" stroke="#dda3a3" stroke-width="0.55" stroke-linejoin="round"/>
<path d="M2.15 9.9 H0.6 V18 H2.15 Z M2.15 10.3 L0.6 9.5 L5.55 0.9 L7.05 1.75 Z M4.55 7.7 L5.85 8.5 L9.2 3 L7.9 2.2 Z" fill="#f8dada" stroke="#dda3a3" stroke-width="0.55" stroke-linejoin="round"/>
</g>
<g transform="translate(75.4 583) rotate(0 0 18.2) scale(0.91 1.01)">
<path d="M-2.15 9.9 H-0.6 V18 H-2.15 Z M-2.15 10.3 L-0.6 9.5 L-5.55 0.9 L-7.05 1.75 Z M-4.55 7.7 L-5.85 8.5 L-9.2 3 L-7.9 2.2 Z" fill="#dddcf2" stroke="#a6a3d2" stroke-width="0.55" stroke-linejoin="round"/>
<path d="M2.15 9.9 H0.6 V18 H2.15 Z M2.15 10.3 L0.6 9.5 L5.55 0.9 L7.05 1.75 Z M4.55 7.7 L5.85 8.5 L9.2 3 L7.9 2.2 Z" fill="#dddcf2" stroke="#a6a3d2" stroke-width="0.55" stroke-linejoin="round"/>
</g>
<g transform="translate(94.7 583) rotate(0 0 18.2) scale(0.91 1.01)">
<path d="M-2.15 9.9 H-0.6 V18 H-2.15 Z M-2.15 10.3 L-0.6 9.5 L-5.55 0.9 L-7.05 1.75 Z M-4.55 7.7 L-5.85 8.5 L-9.2 3 L-7.9 2.2 Z" fill="#b98fc3" stroke="#7d3487" stroke-width="0.55" stroke-linejoin="round"/>
<path d="M2.15 9.9 H0.6 V18 H2.15 Z M2.15 10.3 L0.6 9.5 L5.55 0.9 L7.05 1.75 Z M4.55 7.7 L5.85 8.5 L9.2 3 L7.9 2.2 Z" fill="#b98fc3" stroke="#7d3487" stroke-width="0.55" stroke-linejoin="round"/>
</g>
<g transform="translate(131 583) rotate(0 0 18.2) scale(0.91 1.01)">
<path d="M-2.15 9.9 H-0.6 V18 H-2.15 Z M-2.15 10.3 L-0.6 9.5 L-5.55 0.9 L-7.05 1.75 Z M-4.55 7.7 L-5.85 8.5 L-9.2 3 L-7.9 2.2 Z" fill="#f6efc6" stroke="#cbbf7c" stroke-width="0.55" stroke-linejoin="round"/>
<path d="M2.15 9.9 H0.6 V18 H2.15 Z M2.15 10.3 L0.6 9.5 L5.55 0.9 L7.05 1.75 Z M4.55 7.7 L5.85 8.5 L9.2 3 L7.9 2.2 Z" fill="#f6efc6" stroke="#cbbf7c" stroke-width="0.55" stroke-linejoin="round"/>
</g>
<text x="53.5" y="596.9" font-size="6.24" font-weight="bold" fill="#111" text-anchor="start" textLength="9.2" lengthAdjust="spacingAndGlyphs">OR</text>
<text x="109.6" y="596.9" font-size="6.24" font-weight="bold" fill="#111" text-anchor="start" textLength="9.2" lengthAdjust="spacingAndGlyphs">OR</text>
<polygon points="23,622.6 138.2,622.6 138.2,626.2 23,626.2" fill="#7f90ab" stroke="#56657f" stroke-width="0.6" stroke-linejoin="round"/>
<polygon points="23,622.6 49.6,622.6 49.6,626.2 23,626.2" fill="#5d6c86" stroke="none" stroke-width="0" stroke-linejoin="round"/>
<polygon points="36.5,608.6 124.5,608.6 138.2,622.6 23,622.6" fill="#c9d6e6" stroke="#5c6d89" stroke-width="0.8" stroke-linejoin="round"/>
<polygon points="36.5,608.6 58.7,608.6 49.6,622.6 23,622.6" fill="#9aabc3" stroke="#5c6d89" stroke-width="0.8" stroke-linejoin="round"/>
<polygon points="59.7,609.4 123,609.4 125,611.2 58.2,611.2" fill="#dbe4ef" stroke="none" stroke-width="0" stroke-linejoin="round" opacity="0.7"/>
<path d="M70.5 616 c0 -3.2 6.5 -6.2 15.5 -6.3 c10 -0.1 18 2.9 22 6.4 c2.4 2.4 0.5 4.4 -3.6 4.4 c-5.6 0 -8.4 -5.2 -16.4 -5.6 c-6.5 -0.3 -10 3 -14 2.8 c-2.5 -0.1 -3.5 -0.7 -3.5 -1.7 Z" fill="#f4dde6" stroke="#a04a62" stroke-width="0.8" stroke-linejoin="round"/>
<text x="69.6" y="638.9" font-size="9.98" font-weight="bold" fill="#111" text-anchor="start" textLength="30.3" lengthAdjust="spacingAndGlyphs">DAY 21</text>
<path d="M160.2 604.7 H196" stroke="#222" stroke-width="1" fill="none"/>
<path d="M199.8 604.7 l-5.2 -2.2 v4.4 Z" fill="#111"/>
<path d="M160.2 685.2 H196" stroke="#222" stroke-width="1" fill="none"/>
<path d="M199.8 685.2 l-5.2 -2.2 v4.4 Z" fill="#111"/>
<path d="M7.7 645.2 H170 M196.4 645.2 H358.5" stroke="#bdbdbd" stroke-width="0.8" stroke-dasharray="1.1 1.5" fill="none"/>
<text x="36.5" y="663" font-size="5.82" font-weight="bold" fill="#111" text-anchor="start" textLength="14.3" lengthAdjust="spacingAndGlyphs">TBR2</text>
<text x="55.2" y="663" font-size="5.82" font-weight="bold" fill="#111" text-anchor="start" textLength="15.1" lengthAdjust="spacingAndGlyphs">PAX6</text>
<text x="91" y="663" font-size="5.82" font-weight="bold" fill="#111" text-anchor="start" textLength="16.2" lengthAdjust="spacingAndGlyphs">CTIP2</text>
<text x="112.2" y="663" font-size="5.82" font-weight="bold" fill="#111" text-anchor="start" textLength="13.8" lengthAdjust="spacingAndGlyphs">TBR1</text>
<g transform="translate(43.7 665.8) rotate(0 0 18.6) scale(0.93 1.03)">
<path d="M-2.15 9.9 H-0.6 V18 H-2.15 Z M-2.15 10.3 L-0.6 9.5 L-5.55 0.9 L-7.05 1.75 Z M-4.55 7.7 L-5.85 8.5 L-9.2 3 L-7.9 2.2 Z" fill="#f8dada" stroke="#dda3a3" stroke-width="0.55" stroke-linejoin="round"/>
<path d="M2.15 9.9 H0.6 V18 H2.15 Z M2.15 10.3 L0.6 9.5 L5.55 0.9 L7.05 1.75 Z M4.55 7.7 L5.85 8.5 L9.2 3 L7.9 2.2 Z" fill="#f8dada" stroke="#dda3a3" stroke-width="0.55" stroke-linejoin="round"/>
</g>
<g transform="translate(63 665.8) rotate(0 0 18.6) scale(0.93 1.03)">
<path d="M-2.15 9.9 H-0.6 V18 H-2.15 Z M-2.15 10.3 L-0.6 9.5 L-5.55 0.9 L-7.05 1.75 Z M-4.55 7.7 L-5.85 8.5 L-9.2 3 L-7.9 2.2 Z" fill="#b98a5e" stroke="#8a5a32" stroke-width="0.55" stroke-linejoin="round"/>
<path d="M2.15 9.9 H0.6 V18 H2.15 Z M2.15 10.3 L0.6 9.5 L5.55 0.9 L7.05 1.75 Z M4.55 7.7 L5.85 8.5 L9.2 3 L7.9 2.2 Z" fill="#b98a5e" stroke="#8a5a32" stroke-width="0.55" stroke-linejoin="round"/>
</g>
<g transform="translate(99.4 665.8) rotate(0 0 18.6) scale(0.93 1.03)">
<path d="M-2.15 9.9 H-0.6 V18 H-2.15 Z M-2.15 10.3 L-0.6 9.5 L-5.55 0.9 L-7.05 1.75 Z M-4.55 7.7 L-5.85 8.5 L-9.2 3 L-7.9 2.2 Z" fill="#dddcf2" stroke="#a6a3d2" stroke-width="0.55" stroke-linejoin="round"/>
<path d="M2.15 9.9 H0.6 V18 H2.15 Z M2.15 10.3 L0.6 9.5 L5.55 0.9 L7.05 1.75 Z M4.55 7.7 L5.85 8.5 L9.2 3 L7.9 2.2 Z" fill="#dddcf2" stroke="#a6a3d2" stroke-width="0.55" stroke-linejoin="round"/>
</g>
<g transform="translate(119.3 665.8) rotate(0 0 18.6) scale(0.93 1.03)">
<path d="M-2.15 9.9 H-0.6 V18 H-2.15 Z M-2.15 10.3 L-0.6 9.5 L-5.55 0.9 L-7.05 1.75 Z M-4.55 7.7 L-5.85 8.5 L-9.2 3 L-7.9 2.2 Z" fill="#b98fc3" stroke="#7d3487" stroke-width="0.55" stroke-linejoin="round"/>
<path d="M2.15 9.9 H0.6 V18 H2.15 Z M2.15 10.3 L0.6 9.5 L5.55 0.9 L7.05 1.75 Z M4.55 7.7 L5.85 8.5 L9.2 3 L7.9 2.2 Z" fill="#b98fc3" stroke="#7d3487" stroke-width="0.55" stroke-linejoin="round"/>
</g>
<text x="76.5" y="678" font-size="6.24" font-weight="bold" fill="#111" text-anchor="start" textLength="9.2" lengthAdjust="spacingAndGlyphs">OR</text>
<polygon points="23,707.6 138.2,707.6 138.2,711 23,711" fill="#7f90ab" stroke="#56657f" stroke-width="0.6" stroke-linejoin="round"/>
<polygon points="23,707.6 49.6,707.6 49.6,711 23,711" fill="#5d6c86" stroke="none" stroke-width="0" stroke-linejoin="round"/>
<polygon points="36.5,693.3 124.5,693.3 138.2,707.6 23,707.6" fill="#c9d6e6" stroke="#5c6d89" stroke-width="0.8" stroke-linejoin="round"/>
<polygon points="36.5,693.3 58.7,693.3 49.6,707.6 23,707.6" fill="#9aabc3" stroke="#5c6d89" stroke-width="0.8" stroke-linejoin="round"/>
<polygon points="59.7,694.1 123,694.1 125,695.9 58.2,695.9" fill="#dbe4ef" stroke="none" stroke-width="0" stroke-linejoin="round" opacity="0.7"/>
<path d="M70.5 700.7 c0 -3.2 6.5 -6.2 15.5 -6.3 c10 -0.1 18 2.9 22 6.4 c2.4 2.4 0.5 4.4 -3.6 4.4 c-5.6 0 -8.4 -5.2 -16.4 -5.6 c-6.5 -0.3 -10 3 -14 2.8 c-2.5 -0.1 -3.5 -0.7 -3.5 -1.7 Z" fill="#f4dde6" stroke="#a04a62" stroke-width="0.8" stroke-linejoin="round"/>
<text x="69.6" y="727.5" font-size="9.98" font-weight="bold" fill="#111" text-anchor="start" textLength="31.2" lengthAdjust="spacingAndGlyphs">DAY 40</text>
<g transform="translate(214 565.4) rotate(-4 0 17.8) scale(0.89 0.99)">
<path d="M-2.15 9.9 H-0.6 V18 H-2.15 Z M-2.15 10.3 L-0.6 9.5 L-5.55 0.9 L-7.05 1.75 Z M-4.55 7.7 L-5.85 8.5 L-9.2 3 L-7.9 2.2 Z" fill="#ff6f8f" stroke="#ff6f8f" stroke-width="4.6" opacity="0.2" stroke-linejoin="round"/>
<path d="M-2.15 9.9 H-0.6 V18 H-2.15 Z M-2.15 10.3 L-0.6 9.5 L-5.55 0.9 L-7.05 1.75 Z M-4.55 7.7 L-5.85 8.5 L-9.2 3 L-7.9 2.2 Z" fill="#ff6f8f" stroke="#ff6f8f" stroke-width="2.4" opacity="0.35" stroke-linejoin="round"/>
<path d="M2.15 9.9 H0.6 V18 H2.15 Z M2.15 10.3 L0.6 9.5 L5.55 0.9 L7.05 1.75 Z M4.55 7.7 L5.85 8.5 L9.2 3 L7.9 2.2 Z" fill="#ff6f8f" stroke="#ff6f8f" stroke-width="4.6" opacity="0.2" stroke-linejoin="round"/>
<path d="M2.15 9.9 H0.6 V18 H2.15 Z M2.15 10.3 L0.6 9.5 L5.55 0.9 L7.05 1.75 Z M4.55 7.7 L5.85 8.5 L9.2 3 L7.9 2.2 Z" fill="#ff6f8f" stroke="#ff6f8f" stroke-width="2.4" opacity="0.35" stroke-linejoin="round"/>
<path d="M-2.15 9.9 H-0.6 V18 H-2.15 Z M-2.15 10.3 L-0.6 9.5 L-5.55 0.9 L-7.05 1.75 Z M-4.55 7.7 L-5.85 8.5 L-9.2 3 L-7.9 2.2 Z" fill="#e5174a" stroke="#e5174a" stroke-width="0.29" stroke-linejoin="round"/>
<path d="M2.15 9.9 H0.6 V18 H2.15 Z M2.15 10.3 L0.6 9.5 L5.55 0.9 L7.05 1.75 Z M4.55 7.7 L5.85 8.5 L9.2 3 L7.9 2.2 Z" fill="#e5174a" stroke="#e5174a" stroke-width="0.29" stroke-linejoin="round"/>
</g>
<g transform="translate(227.1 582.3) rotate(-10 0 18.5) scale(0.92 1.03)">
<path d="M-2.15 9.9 H-0.6 V18 H-2.15 Z M-2.15 10.3 L-0.6 9.5 L-5.55 0.9 L-7.05 1.75 Z M-4.55 7.7 L-5.85 8.5 L-9.2 3 L-7.9 2.2 Z" fill="#f3d9d4" stroke="#d9a9a3" stroke-width="0.55" stroke-linejoin="round"/>
<path d="M2.15 9.9 H0.6 V18 H2.15 Z M2.15 10.3 L0.6 9.5 L5.55 0.9 L7.05 1.75 Z M4.55 7.7 L5.85 8.5 L9.2 3 L7.9 2.2 Z" fill="#f3d9d4" stroke="#d9a9a3" stroke-width="0.55" stroke-linejoin="round"/>
</g>
<g transform="translate(261.3 567.9) rotate(-2 0 16.8) scale(0.84 0.93)">
<path d="M-2.15 9.9 H-0.6 V18 H-2.15 Z M-2.15 10.3 L-0.6 9.5 L-5.55 0.9 L-7.05 1.75 Z M-4.55 7.7 L-5.85 8.5 L-9.2 3 L-7.9 2.2 Z" fill="#7dff8a" stroke="#7dff8a" stroke-width="4.6" opacity="0.2" stroke-linejoin="round"/>
<path d="M-2.15 9.9 H-0.6 V18 H-2.15 Z M-2.15 10.3 L-0.6 9.5 L-5.55 0.9 L-7.05 1.75 Z M-4.55 7.7 L-5.85 8.5 L-9.2 3 L-7.9 2.2 Z" fill="#7dff8a" stroke="#7dff8a" stroke-width="2.4" opacity="0.35" stroke-linejoin="round"/>
<path d="M2.15 9.9 H0.6 V18 H2.15 Z M2.15 10.3 L0.6 9.5 L5.55 0.9 L7.05 1.75 Z M4.55 7.7 L5.85 8.5 L9.2 3 L7.9 2.2 Z" fill="#7dff8a" stroke="#7dff8a" stroke-width="4.6" opacity="0.2" stroke-linejoin="round"/>
<path d="M2.15 9.9 H0.6 V18 H2.15 Z M2.15 10.3 L0.6 9.5 L5.55 0.9 L7.05 1.75 Z M4.55 7.7 L5.85 8.5 L9.2 3 L7.9 2.2 Z" fill="#7dff8a" stroke="#7dff8a" stroke-width="2.4" opacity="0.35" stroke-linejoin="round"/>
<path d="M-2.15 9.9 H-0.6 V18 H-2.15 Z M-2.15 10.3 L-0.6 9.5 L-5.55 0.9 L-7.05 1.75 Z M-4.55 7.7 L-5.85 8.5 L-9.2 3 L-7.9 2.2 Z" fill="#2edc46" stroke="#2edc46" stroke-width="0.3" stroke-linejoin="round"/>
<path d="M2.15 9.9 H0.6 V18 H2.15 Z M2.15 10.3 L0.6 9.5 L5.55 0.9 L7.05 1.75 Z M4.55 7.7 L5.85 8.5 L9.2 3 L7.9 2.2 Z" fill="#2edc46" stroke="#2edc46" stroke-width="0.3" stroke-linejoin="round"/>
</g>
<g transform="translate(272.1 583.9) rotate(0 0 18.5) scale(0.92 1.03)">
<path d="M-2.15 9.9 H-0.6 V18 H-2.15 Z M-2.15 10.3 L-0.6 9.5 L-5.55 0.9 L-7.05 1.75 Z M-4.55 7.7 L-5.85 8.5 L-9.2 3 L-7.9 2.2 Z" fill="#dddcf2" stroke="#a6a3d2" stroke-width="0.55" stroke-linejoin="round"/>
<path d="M2.15 9.9 H0.6 V18 H2.15 Z M2.15 10.3 L0.6 9.5 L5.55 0.9 L7.05 1.75 Z M4.55 7.7 L5.85 8.5 L9.2 3 L7.9 2.2 Z" fill="#dddcf2" stroke="#a6a3d2" stroke-width="0.55" stroke-linejoin="round"/>
</g>
<g transform="translate(291.4 583.9) rotate(0 0 19.2) scale(0.96 1.07)">
<path d="M-2.15 9.9 H-0.6 V18 H-2.15 Z M-2.15 10.3 L-0.6 9.5 L-5.55 0.9 L-7.05 1.75 Z M-4.55 7.7 L-5.85 8.5 L-9.2 3 L-7.9 2.2 Z" fill="#b98fc3" stroke="#7d3487" stroke-width="0.55" stroke-linejoin="round"/>
<path d="M2.15 9.9 H0.6 V18 H2.15 Z M2.15 10.3 L0.6 9.5 L5.55 0.9 L7.05 1.75 Z M4.55 7.7 L5.85 8.5 L9.2 3 L7.9 2.2 Z" fill="#b98fc3" stroke="#7d3487" stroke-width="0.55" stroke-linejoin="round"/>
</g>
<g transform="translate(304.2 567) rotate(4 0 17.7) scale(0.89 0.98)">
<path d="M-2.15 9.9 H-0.6 V18 H-2.15 Z M-2.15 10.3 L-0.6 9.5 L-5.55 0.9 L-7.05 1.75 Z M-4.55 7.7 L-5.85 8.5 L-9.2 3 L-7.9 2.2 Z" fill="#ff6f8f" stroke="#ff6f8f" stroke-width="4.6" opacity="0.2" stroke-linejoin="round"/>
<path d="M-2.15 9.9 H-0.6 V18 H-2.15 Z M-2.15 10.3 L-0.6 9.5 L-5.55 0.9 L-7.05 1.75 Z M-4.55 7.7 L-5.85 8.5 L-9.2 3 L-7.9 2.2 Z" fill="#ff6f8f" stroke="#ff6f8f" stroke-width="2.4" opacity="0.35" stroke-linejoin="round"/>
<path d="M2.15 9.9 H0.6 V18 H2.15 Z M2.15 10.3 L0.6 9.5 L5.55 0.9 L7.05 1.75 Z M4.55 7.7 L5.85 8.5 L9.2 3 L7.9 2.2 Z" fill="#ff6f8f" stroke="#ff6f8f" stroke-width="4.6" opacity="0.2" stroke-linejoin="round"/>
<path d="M2.15 9.9 H0.6 V18 H2.15 Z M2.15 10.3 L0.6 9.5 L5.55 0.9 L7.05 1.75 Z M4.55 7.7 L5.85 8.5 L9.2 3 L7.9 2.2 Z" fill="#ff6f8f" stroke="#ff6f8f" stroke-width="2.4" opacity="0.35" stroke-linejoin="round"/>
<path d="M-2.15 9.9 H-0.6 V18 H-2.15 Z M-2.15 10.3 L-0.6 9.5 L-5.55 0.9 L-7.05 1.75 Z M-4.55 7.7 L-5.85 8.5 L-9.2 3 L-7.9 2.2 Z" fill="#e5174a" stroke="#e5174a" stroke-width="0.29" stroke-linejoin="round"/>
<path d="M2.15 9.9 H0.6 V18 H2.15 Z M2.15 10.3 L0.6 9.5 L5.55 0.9 L7.05 1.75 Z M4.55 7.7 L5.85 8.5 L9.2 3 L7.9 2.2 Z" fill="#e5174a" stroke="#e5174a" stroke-width="0.29" stroke-linejoin="round"/>
</g>
<g transform="translate(329.6 583.9) rotate(0 0 19.2) scale(0.96 1.07)">
<path d="M-2.15 9.9 H-0.6 V18 H-2.15 Z M-2.15 10.3 L-0.6 9.5 L-5.55 0.9 L-7.05 1.75 Z M-4.55 7.7 L-5.85 8.5 L-9.2 3 L-7.9 2.2 Z" fill="#f6efc6" stroke="#cbbf7c" stroke-width="0.55" stroke-linejoin="round"/>
<path d="M2.15 9.9 H0.6 V18 H2.15 Z M2.15 10.3 L0.6 9.5 L5.55 0.9 L7.05 1.75 Z M4.55 7.7 L5.85 8.5 L9.2 3 L7.9 2.2 Z" fill="#f6efc6" stroke="#cbbf7c" stroke-width="0.55" stroke-linejoin="round"/>
</g>
<g transform="translate(342.5 567.9) rotate(4 0 16.9) scale(0.84 0.94)">
<path d="M-2.15 9.9 H-0.6 V18 H-2.15 Z M-2.15 10.3 L-0.6 9.5 L-5.55 0.9 L-7.05 1.75 Z M-4.55 7.7 L-5.85 8.5 L-9.2 3 L-7.9 2.2 Z" fill="#ff6f8f" stroke="#ff6f8f" stroke-width="4.6" opacity="0.2" stroke-linejoin="round"/>
<path d="M-2.15 9.9 H-0.6 V18 H-2.15 Z M-2.15 10.3 L-0.6 9.5 L-5.55 0.9 L-7.05 1.75 Z M-4.55 7.7 L-5.85 8.5 L-9.2 3 L-7.9 2.2 Z" fill="#ff6f8f" stroke="#ff6f8f" stroke-width="2.4" opacity="0.35" stroke-linejoin="round"/>
<path d="M2.15 9.9 H0.6 V18 H2.15 Z M2.15 10.3 L0.6 9.5 L5.55 0.9 L7.05 1.75 Z M4.55 7.7 L5.85 8.5 L9.2 3 L7.9 2.2 Z" fill="#ff6f8f" stroke="#ff6f8f" stroke-width="4.6" opacity="0.2" stroke-linejoin="round"/>
<path d="M2.15 9.9 H0.6 V18 H2.15 Z M2.15 10.3 L0.6 9.5 L5.55 0.9 L7.05 1.75 Z M4.55 7.7 L5.85 8.5 L9.2 3 L7.9 2.2 Z" fill="#ff6f8f" stroke="#ff6f8f" stroke-width="2.4" opacity="0.35" stroke-linejoin="round"/>
<path d="M-2.15 9.9 H-0.6 V18 H-2.15 Z M-2.15 10.3 L-0.6 9.5 L-5.55 0.9 L-7.05 1.75 Z M-4.55 7.7 L-5.85 8.5 L-9.2 3 L-7.9 2.2 Z" fill="#e5174a" stroke="#e5174a" stroke-width="0.29" stroke-linejoin="round"/>
<path d="M2.15 9.9 H0.6 V18 H2.15 Z M2.15 10.3 L0.6 9.5 L5.55 0.9 L7.05 1.75 Z M4.55 7.7 L5.85 8.5 L9.2 3 L7.9 2.2 Z" fill="#e5174a" stroke="#e5174a" stroke-width="0.29" stroke-linejoin="round"/>
</g>
<text x="244" y="594.9" font-size="6.24" font-weight="bold" fill="#111" text-anchor="start" textLength="8.8" lengthAdjust="spacingAndGlyphs">OR</text>
<text x="305.8" y="594.9" font-size="6.24" font-weight="bold" fill="#111" text-anchor="start" textLength="8.8" lengthAdjust="spacingAndGlyphs">OR</text>
<polygon points="219.2,623.2 335.6,623.2 335.6,626.5 219.2,626.5" fill="#7f90ab" stroke="#56657f" stroke-width="0.6" stroke-linejoin="round"/>
<polygon points="219.2,623.2 246.4,623.2 246.4,626.5 219.2,626.5" fill="#5d6c86" stroke="none" stroke-width="0" stroke-linejoin="round"/>
<polygon points="233.6,608.8 321.9,608.8 335.6,623.2 219.2,623.2" fill="#c9d6e6" stroke="#5c6d89" stroke-width="0.8" stroke-linejoin="round"/>
<polygon points="233.6,608.8 256,608.8 246.4,623.2 219.2,623.2" fill="#9aabc3" stroke="#5c6d89" stroke-width="0.8" stroke-linejoin="round"/>
<polygon points="257,609.6 320.4,609.6 322.4,611.4 255.5,611.4" fill="#dbe4ef" stroke="none" stroke-width="0" stroke-linejoin="round" opacity="0.7"/>
<path d="M267.6 616.2 c0 -3.2 6.5 -6.2 15.5 -6.3 c10 -0.1 18 2.9 22 6.4 c2.4 2.4 0.5 4.4 -3.6 4.4 c-5.6 0 -8.4 -5.2 -16.4 -5.6 c-6.5 -0.3 -10 3 -14 2.8 c-2.5 -0.1 -3.5 -0.7 -3.5 -1.7 Z" fill="#f4dde6" stroke="#a04a62" stroke-width="0.8" stroke-linejoin="round"/>
<text x="269.3" y="638.4" font-size="9.98" font-weight="bold" fill="#111" text-anchor="start" textLength="30.8" lengthAdjust="spacingAndGlyphs">DAY 21</text>
<g transform="translate(215.6 651.5) rotate(-3 0 16.6) scale(0.83 0.92)">
<path d="M-2.15 9.9 H-0.6 V18 H-2.15 Z M-2.15 10.3 L-0.6 9.5 L-5.55 0.9 L-7.05 1.75 Z M-4.55 7.7 L-5.85 8.5 L-9.2 3 L-7.9 2.2 Z" fill="#7dff8a" stroke="#7dff8a" stroke-width="4.6" opacity="0.2" stroke-linejoin="round"/>
<path d="M-2.15 9.9 H-0.6 V18 H-2.15 Z M-2.15 10.3 L-0.6 9.5 L-5.55 0.9 L-7.05 1.75 Z M-4.55 7.7 L-5.85 8.5 L-9.2 3 L-7.9 2.2 Z" fill="#7dff8a" stroke="#7dff8a" stroke-width="2.4" opacity="0.35" stroke-linejoin="round"/>
<path d="M2.15 9.9 H0.6 V18 H2.15 Z M2.15 10.3 L0.6 9.5 L5.55 0.9 L7.05 1.75 Z M4.55 7.7 L5.85 8.5 L9.2 3 L7.9 2.2 Z" fill="#7dff8a" stroke="#7dff8a" stroke-width="4.6" opacity="0.2" stroke-linejoin="round"/>
<path d="M2.15 9.9 H0.6 V18 H2.15 Z M2.15 10.3 L0.6 9.5 L5.55 0.9 L7.05 1.75 Z M4.55 7.7 L5.85 8.5 L9.2 3 L7.9 2.2 Z" fill="#7dff8a" stroke="#7dff8a" stroke-width="2.4" opacity="0.35" stroke-linejoin="round"/>
<path d="M-2.15 9.9 H-0.6 V18 H-2.15 Z M-2.15 10.3 L-0.6 9.5 L-5.55 0.9 L-7.05 1.75 Z M-4.55 7.7 L-5.85 8.5 L-9.2 3 L-7.9 2.2 Z" fill="#2edc46" stroke="#2edc46" stroke-width="0.3" stroke-linejoin="round"/>
<path d="M2.15 9.9 H0.6 V18 H2.15 Z M2.15 10.3 L0.6 9.5 L5.55 0.9 L7.05 1.75 Z M4.55 7.7 L5.85 8.5 L9.2 3 L7.9 2.2 Z" fill="#2edc46" stroke="#2edc46" stroke-width="0.3" stroke-linejoin="round"/>
</g>
<g transform="translate(226.2 667) rotate(-6 0 18.8) scale(0.94 1.04)">
<path d="M-2.15 9.9 H-0.6 V18 H-2.15 Z M-2.15 10.3 L-0.6 9.5 L-5.55 0.9 L-7.05 1.75 Z M-4.55 7.7 L-5.85 8.5 L-9.2 3 L-7.9 2.2 Z" fill="#f3d9d4" stroke="#d9a9a3" stroke-width="0.55" stroke-linejoin="round"/>
<path d="M2.15 9.9 H0.6 V18 H2.15 Z M2.15 10.3 L0.6 9.5 L5.55 0.9 L7.05 1.75 Z M4.55 7.7 L5.85 8.5 L9.2 3 L7.9 2.2 Z" fill="#f3d9d4" stroke="#d9a9a3" stroke-width="0.55" stroke-linejoin="round"/>
</g>
<g transform="translate(246.5 667) rotate(0 0 18.8) scale(0.94 1.04)">
<path d="M-2.15 9.9 H-0.6 V18 H-2.15 Z M-2.15 10.3 L-0.6 9.5 L-5.55 0.9 L-7.05 1.75 Z M-4.55 7.7 L-5.85 8.5 L-9.2 3 L-7.9 2.2 Z" fill="#b98a5e" stroke="#8a5a32" stroke-width="0.55" stroke-linejoin="round"/>
<path d="M2.15 9.9 H0.6 V18 H2.15 Z M2.15 10.3 L0.6 9.5 L5.55 0.9 L7.05 1.75 Z M4.55 7.7 L5.85 8.5 L9.2 3 L7.9 2.2 Z" fill="#b98a5e" stroke="#8a5a32" stroke-width="0.55" stroke-linejoin="round"/>
</g>
<g transform="translate(258.2 651.5) rotate(5 0 17) scale(0.85 0.94)">
<path d="M-2.15 9.9 H-0.6 V18 H-2.15 Z M-2.15 10.3 L-0.6 9.5 L-5.55 0.9 L-7.05 1.75 Z M-4.55 7.7 L-5.85 8.5 L-9.2 3 L-7.9 2.2 Z" fill="#ff6f8f" stroke="#ff6f8f" stroke-width="4.6" opacity="0.2" stroke-linejoin="round"/>
<path d="M-2.15 9.9 H-0.6 V18 H-2.15 Z M-2.15 10.3 L-0.6 9.5 L-5.55 0.9 L-7.05 1.75 Z M-4.55 7.7 L-5.85 8.5 L-9.2 3 L-7.9 2.2 Z" fill="#ff6f8f" stroke="#ff6f8f" stroke-width="2.4" opacity="0.35" stroke-linejoin="round"/>
<path d="M2.15 9.9 H0.6 V18 H2.15 Z M2.15 10.3 L0.6 9.5 L5.55 0.9 L7.05 1.75 Z M4.55 7.7 L5.85 8.5 L9.2 3 L7.9 2.2 Z" fill="#ff6f8f" stroke="#ff6f8f" stroke-width="4.6" opacity="0.2" stroke-linejoin="round"/>
<path d="M2.15 9.9 H0.6 V18 H2.15 Z M2.15 10.3 L0.6 9.5 L5.55 0.9 L7.05 1.75 Z M4.55 7.7 L5.85 8.5 L9.2 3 L7.9 2.2 Z" fill="#ff6f8f" stroke="#ff6f8f" stroke-width="2.4" opacity="0.35" stroke-linejoin="round"/>
<path d="M-2.15 9.9 H-0.6 V18 H-2.15 Z M-2.15 10.3 L-0.6 9.5 L-5.55 0.9 L-7.05 1.75 Z M-4.55 7.7 L-5.85 8.5 L-9.2 3 L-7.9 2.2 Z" fill="#e5174a" stroke="#e5174a" stroke-width="0.29" stroke-linejoin="round"/>
<path d="M2.15 9.9 H0.6 V18 H2.15 Z M2.15 10.3 L0.6 9.5 L5.55 0.9 L7.05 1.75 Z M4.55 7.7 L5.85 8.5 L9.2 3 L7.9 2.2 Z" fill="#e5174a" stroke="#e5174a" stroke-width="0.29" stroke-linejoin="round"/>
</g>
<text x="277" y="677.4" font-size="6.24" font-weight="bold" fill="#111" text-anchor="start" textLength="8.8" lengthAdjust="spacingAndGlyphs">OR</text>
<g transform="translate(301.3 651.5) rotate(-3 0 16.6) scale(0.83 0.92)">
<path d="M-2.15 9.9 H-0.6 V18 H-2.15 Z M-2.15 10.3 L-0.6 9.5 L-5.55 0.9 L-7.05 1.75 Z M-4.55 7.7 L-5.85 8.5 L-9.2 3 L-7.9 2.2 Z" fill="#7dff8a" stroke="#7dff8a" stroke-width="4.6" opacity="0.2" stroke-linejoin="round"/>
<path d="M-2.15 9.9 H-0.6 V18 H-2.15 Z M-2.15 10.3 L-0.6 9.5 L-5.55 0.9 L-7.05 1.75 Z M-4.55 7.7 L-5.85 8.5 L-9.2 3 L-7.9 2.2 Z" fill="#7dff8a" stroke="#7dff8a" stroke-width="2.4" opacity="0.35" stroke-linejoin="round"/>
<path d="M2.15 9.9 H0.6 V18 H2.15 Z M2.15 10.3 L0.6 9.5 L5.55 0.9 L7.05 1.75 Z M4.55 7.7 L5.85 8.5 L9.2 3 L7.9 2.2 Z" fill="#7dff8a" stroke="#7dff8a" stroke-width="4.6" opacity="0.2" stroke-linejoin="round"/>
<path d="M2.15 9.9 H0.6 V18 H2.15 Z M2.15 10.3 L0.6 9.5 L5.55 0.9 L7.05 1.75 Z M4.55 7.7 L5.85 8.5 L9.2 3 L7.9 2.2 Z" fill="#7dff8a" stroke="#7dff8a" stroke-width="2.4" opacity="0.35" stroke-linejoin="round"/>
<path d="M-2.15 9.9 H-0.6 V18 H-2.15 Z M-2.15 10.3 L-0.6 9.5 L-5.55 0.9 L-7.05 1.75 Z M-4.55 7.7 L-5.85 8.5 L-9.2 3 L-7.9 2.2 Z" fill="#2edc46" stroke="#2edc46" stroke-width="0.3" stroke-linejoin="round"/>
<path d="M2.15 9.9 H0.6 V18 H2.15 Z M2.15 10.3 L0.6 9.5 L5.55 0.9 L7.05 1.75 Z M4.55 7.7 L5.85 8.5 L9.2 3 L7.9 2.2 Z" fill="#2edc46" stroke="#2edc46" stroke-width="0.3" stroke-linejoin="round"/>
</g>
<g transform="translate(312.8 667) rotate(0 0 18.8) scale(0.94 1.04)">
<path d="M-2.15 9.9 H-0.6 V18 H-2.15 Z M-2.15 10.3 L-0.6 9.5 L-5.55 0.9 L-7.05 1.75 Z M-4.55 7.7 L-5.85 8.5 L-9.2 3 L-7.9 2.2 Z" fill="#dddcf2" stroke="#a6a3d2" stroke-width="0.55" stroke-linejoin="round"/>
<path d="M2.15 9.9 H0.6 V18 H2.15 Z M2.15 10.3 L0.6 9.5 L5.55 0.9 L7.05 1.75 Z M4.55 7.7 L5.85 8.5 L9.2 3 L7.9 2.2 Z" fill="#dddcf2" stroke="#a6a3d2" stroke-width="0.55" stroke-linejoin="round"/>
</g>
<g transform="translate(332.2 667) rotate(0 0 18.8) scale(0.94 1.04)">
<path d="M-2.15 9.9 H-0.6 V18 H-2.15 Z M-2.15 10.3 L-0.6 9.5 L-5.55 0.9 L-7.05 1.75 Z M-4.55 7.7 L-5.85 8.5 L-9.2 3 L-7.9 2.2 Z" fill="#b98fc3" stroke="#7d3487" stroke-width="0.55" stroke-linejoin="round"/>
<path d="M2.15 9.9 H0.6 V18 H2.15 Z M2.15 10.3 L0.6 9.5 L5.55 0.9 L7.05 1.75 Z M4.55 7.7 L5.85 8.5 L9.2 3 L7.9 2.2 Z" fill="#b98fc3" stroke="#7d3487" stroke-width="0.55" stroke-linejoin="round"/>
</g>
<g transform="translate(344.4 651.5) rotate(5 0 17) scale(0.85 0.94)">
<path d="M-2.15 9.9 H-0.6 V18 H-2.15 Z M-2.15 10.3 L-0.6 9.5 L-5.55 0.9 L-7.05 1.75 Z M-4.55 7.7 L-5.85 8.5 L-9.2 3 L-7.9 2.2 Z" fill="#ff6f8f" stroke="#ff6f8f" stroke-width="4.6" opacity="0.2" stroke-linejoin="round"/>
<path d="M-2.15 9.9 H-0.6 V18 H-2.15 Z M-2.15 10.3 L-0.6 9.5 L-5.55 0.9 L-7.05 1.75 Z M-4.55 7.7 L-5.85 8.5 L-9.2 3 L-7.9 2.2 Z" fill="#ff6f8f" stroke="#ff6f8f" stroke-width="2.4" opacity="0.35" stroke-linejoin="round"/>
<path d="M2.15 9.9 H0.6 V18 H2.15 Z M2.15 10.3 L0.6 9.5 L5.55 0.9 L7.05 1.75 Z M4.55 7.7 L5.85 8.5 L9.2 3 L7.9 2.2 Z" fill="#ff6f8f" stroke="#ff6f8f" stroke-width="4.6" opacity="0.2" stroke-linejoin="round"/>
<path d="M2.15 9.9 H0.6 V18 H2.15 Z M2.15 10.3 L0.6 9.5 L5.55 0.9 L7.05 1.75 Z M4.55 7.7 L5.85 8.5 L9.2 3 L7.9 2.2 Z" fill="#ff6f8f" stroke="#ff6f8f" stroke-width="2.4" opacity="0.35" stroke-linejoin="round"/>
<path d="M-2.15 9.9 H-0.6 V18 H-2.15 Z M-2.15 10.3 L-0.6 9.5 L-5.55 0.9 L-7.05 1.75 Z M-4.55 7.7 L-5.85 8.5 L-9.2 3 L-7.9 2.2 Z" fill="#e5174a" stroke="#e5174a" stroke-width="0.29" stroke-linejoin="round"/>
<path d="M2.15 9.9 H0.6 V18 H2.15 Z M2.15 10.3 L0.6 9.5 L5.55 0.9 L7.05 1.75 Z M4.55 7.7 L5.85 8.5 L9.2 3 L7.9 2.2 Z" fill="#e5174a" stroke="#e5174a" stroke-width="0.29" stroke-linejoin="round"/>
</g>
<polygon points="219.2,707.7 335.6,707.7 335.6,710.9 219.2,710.9" fill="#7f90ab" stroke="#56657f" stroke-width="0.6" stroke-linejoin="round"/>
<polygon points="219.2,707.7 246.4,707.7 246.4,710.9 219.2,710.9" fill="#5d6c86" stroke="none" stroke-width="0" stroke-linejoin="round"/>
<polygon points="233.6,692.9 321.9,692.9 335.6,707.7 219.2,707.7" fill="#c9d6e6" stroke="#5c6d89" stroke-width="0.8" stroke-linejoin="round"/>
<polygon points="233.6,692.9 256,692.9 246.4,707.7 219.2,707.7" fill="#9aabc3" stroke="#5c6d89" stroke-width="0.8" stroke-linejoin="round"/>
<polygon points="257,693.7 320.4,693.7 322.4,695.5 255.5,695.5" fill="#dbe4ef" stroke="none" stroke-width="0" stroke-linejoin="round" opacity="0.7"/>
<path d="M267.6 700.3 c0 -3.2 6.5 -6.2 15.5 -6.3 c10 -0.1 18 2.9 22 6.4 c2.4 2.4 0.5 4.4 -3.6 4.4 c-5.6 0 -8.4 -5.2 -16.4 -5.6 c-6.5 -0.3 -10 3 -14 2.8 c-2.5 -0.1 -3.5 -0.7 -3.5 -1.7 Z" fill="#f4dde6" stroke="#a04a62" stroke-width="0.8" stroke-linejoin="round"/>
<text x="269.3" y="726.8" font-size="9.98" font-weight="bold" fill="#111" text-anchor="start" textLength="31.5" lengthAdjust="spacingAndGlyphs">DAY 40</text>
<text x="40.6" y="764.1" font-size="26.52" font-weight="normal" fill="#000" text-anchor="start" textLength="89.4" lengthAdjust="spacingAndGlyphs" stroke="#000" stroke-width="0.35">Primary</text>
<text x="30.3" y="795.4" font-size="26.52" font-weight="normal" fill="#000" text-anchor="start" textLength="116.8" lengthAdjust="spacingAndGlyphs" stroke="#000" stroke-width="0.35">antibodies</text>
<text x="213.6" y="764.1" font-size="26.52" font-weight="normal" fill="#000" text-anchor="start" textLength="124" lengthAdjust="spacingAndGlyphs" stroke="#000" stroke-width="0.35">Secondary</text>
<text x="217.4" y="795.4" font-size="26.52" font-weight="normal" fill="#000" text-anchor="start" textLength="117.6" lengthAdjust="spacingAndGlyphs" stroke="#000" stroke-width="0.35">antibodies</text>
</g>
<g id="panel4">
<polygon points="741.4,559.2 749,552.6 749.4,600 744,600.5 741.6,597" fill="#4b4c4f" stroke="none" stroke-width="0" stroke-linejoin="round"/>
<path d="M748.9 549.8 L768.5 551.5 L773.3 565 L752 567 L751.5 606 L762.5 611 L764 633.5 L796.2 642.8 L775.4 647 L742.5 634.9 Q743 620 746.2 600 Q747.6 592 747.8 580 Z" fill="#e9e7e8" stroke="#cfcdce" stroke-width="0.5"/>
<polygon points="742.5,634.9 775.4,647 796.2,642.8 796.2,641.2 775.4,645 742.6,633" fill="#d2d0d1" stroke="none" stroke-width="0" stroke-linejoin="round"/>
<path d="M766.4 566.2 Q772 564.8 778.2 566 Q780.4 566.8 779.6 568.8 L777 571.6 Q772 572.6 768 571.2 Z" fill="#f0eeee" stroke="#cfcdce" stroke-width="0.4"/>
<rect x="751.7" y="566" width="21.4" height="18.6" rx="2" fill="#8e8f92"/>
<rect x="751.7" y="574.6" width="21.4" height="0.8" fill="#6c6d70"/><rect x="762" y="566" width="0.8" height="18.6" fill="#6c6d70"/>
<rect x="763" y="572" width="10" height="3.4" fill="#a9aaad"/>
<polygon points="752.2,584.4 762.3,584.4 762.3,609.5 752.6,606.5" fill="#4c4d50" stroke="none" stroke-width="0" stroke-linejoin="round"/>
<path d="M762.6 592.6 L763.4 588 Q768 585.6 772 585.8 L784.6 588.6 L784.4 592.8 Z" fill="#f1efef" stroke="#d0cecf" stroke-width="0.4"/>
<polygon points="772.64,588.67 780.18,582.32 776.7,578.19 769.16,584.53" fill="#e6e4e4" stroke="#b7b5b6" stroke-width="0.4" stroke-linejoin="round"/>
<polygon points="780.18,582.32 787.14,576.47 783.66,572.33 776.7,578.19" fill="#46474a" stroke="none" stroke-width="0" stroke-linejoin="round"/>
<polygon points="781.5,589.61 788.73,583.17 785.13,579.14 777.9,585.59" fill="#e6e4e4" stroke="#b7b5b6" stroke-width="0.4" stroke-linejoin="round"/>
<polygon points="788.73,583.17 795.4,577.21 791.8,573.19 785.13,579.14" fill="#46474a" stroke="none" stroke-width="0" stroke-linejoin="round"/>
<path d="M762.2 593.6 Q773 590.6 784.2 593 L784.2 606.6 Q773 609.6 762.2 607.4 Z" fill="#56575a"/>
<path d="M762.2 593.6 Q773 590.6 784.2 593 Q773 595.6 762.2 593.6 Z" fill="#6d6e71"/>
<rect x="765.5" y="608" width="9.5" height="4.2" fill="#b9babc"/><rect x="767" y="611.6" width="6.6" height="3.4" fill="#8b8c8f"/>
<polygon points="761,617 789.3,616.2 789.8,619 761.4,619.9" fill="#3c3d40" stroke="none" stroke-width="0" stroke-linejoin="round"/>
<polygon points="763.5,620.2 786,619.6 786,622.6 763.5,623.2" fill="#d9d8d9" stroke="none" stroke-width="0" stroke-linejoin="round"/>
<polygon points="765.6,624 786.2,623.3 786.6,627.4 765.2,628" fill="#444548" stroke="none" stroke-width="0" stroke-linejoin="round"/>
<rect x="770.6" y="628" width="6.4" height="2.6" fill="#5a5b5e"/>
<circle cx="758.1" cy="631.2" r="3.3" fill="#55565a"/><circle cx="758.1" cy="631.2" r="1.8" fill="#707174"/>
<polygon points="769.6,635.8 785.8,633.5 795.6,641.6 777.1,644.5" fill="#66676a" stroke="none" stroke-width="0" stroke-linejoin="round"/>
<polygon points="771.8,636.8 785.2,634.9 792.8,641 777.8,643.2" fill="#ededee" stroke="none" stroke-width="0" stroke-linejoin="round"/>
<rect x="671.3" y="577.3" width="72.8" height="45.3" rx="1.6" fill="#3d3d3f"/>
<rect x="673.2" y="579.3" width="69" height="41.2" fill="#06050c"/>
<ellipse cx="690.44" cy="585.22" rx="2.25" ry="1.71" fill="#5f63e8" opacity="0.95" transform="rotate(155.09 690.44 585.22)"/>
<ellipse cx="700.9" cy="587.13" rx="2.2" ry="1.53" fill="#7a6cf0" opacity="0.8" transform="rotate(76.16 700.9 587.13)"/>
<ellipse cx="679.35" cy="596.26" rx="1.93" ry="1.83" fill="#4a4fd0" opacity="0.6" transform="rotate(3.42 679.35 596.26)"/>
<ellipse cx="735.03" cy="611.02" rx="2.76" ry="1.39" fill="#8f86f5" opacity="0.9" transform="rotate(28.2 735.03 611.02)"/>
<ellipse cx="725.04" cy="589.61" rx="2.66" ry="1.79" fill="#3d3aa8" opacity="0.5" transform="rotate(41.76 725.04 589.61)"/>
<ellipse cx="710.1" cy="591.64" rx="2.4" ry="1.59" fill="#5f63e8" opacity="0.95" transform="rotate(129.34 710.1 591.64)"/>
<ellipse cx="689.02" cy="615.72" rx="2.07" ry="1.8" fill="#7a6cf0" opacity="0.8" transform="rotate(179.36 689.02 615.72)"/>
<ellipse cx="729.21" cy="611.25" rx="2.54" ry="1.85" fill="#4a4fd0" opacity="0.6" transform="rotate(168.68 729.21 611.25)"/>
<ellipse cx="695.26" cy="604.6" rx="2.24" ry="1.81" fill="#8f86f5" opacity="0.9" transform="rotate(150.08 695.26 604.6)"/>
<ellipse cx="722.87" cy="613.02" rx="2.43" ry="1.36" fill="#3d3aa8" opacity="0.5" transform="rotate(111.46 722.87 613.02)"/>
<ellipse cx="732.56" cy="584.61" rx="2.72" ry="1.48" fill="#5f63e8" opacity="0.95" transform="rotate(116.43 732.56 584.61)"/>
<ellipse cx="714.62" cy="606.25" rx="2.71" ry="1.66" fill="#7a6cf0" opacity="0.8" transform="rotate(6.7 714.62 606.25)"/>
<ellipse cx="705.97" cy="584.71" rx="2.47" ry="1.45" fill="#4a4fd0" opacity="0.6" transform="rotate(154.43 705.97 584.71)"/>
<ellipse cx="734.44" cy="602.58" rx="2.5" ry="1.48" fill="#8f86f5" opacity="0.9" transform="rotate(161.22 734.44 602.58)"/>
<ellipse cx="714.17" cy="597.35" rx="2.46" ry="1.5" fill="#3d3aa8" opacity="0.5" transform="rotate(150.15 714.17 597.35)"/>
<ellipse cx="685.55" cy="592.69" rx="2.7" ry="1.84" fill="#5f63e8" opacity="0.95" transform="rotate(158.99 685.55 592.69)"/>
<ellipse cx="678.03" cy="604.57" rx="2.49" ry="1.72" fill="#7a6cf0" opacity="0.8" transform="rotate(108.84 678.03 604.57)"/>
<ellipse cx="740.22" cy="588.64" rx="2.37" ry="1.89" fill="#4a4fd0" opacity="0.6" transform="rotate(63.55 740.22 588.64)"/>
<ellipse cx="716.38" cy="591.62" rx="1.97" ry="1.73" fill="#8f86f5" opacity="0.9" transform="rotate(89.66 716.38 591.62)"/>
<ellipse cx="679.03" cy="589.87" rx="2.39" ry="1.66" fill="#3d3aa8" opacity="0.5" transform="rotate(44.98 679.03 589.87)"/>
<ellipse cx="725.04" cy="604.17" rx="2.08" ry="1.34" fill="#5f63e8" opacity="0.95" transform="rotate(140.69 725.04 604.17)"/>
<ellipse cx="686.61" cy="598.38" rx="2.72" ry="1.72" fill="#7a6cf0" opacity="0.8" transform="rotate(21.02 686.61 598.38)"/>
<ellipse cx="733.59" cy="616.73" rx="2.78" ry="1.8" fill="#4a4fd0" opacity="0.6" transform="rotate(91.67 733.59 616.73)"/>
<ellipse cx="701.84" cy="616.3" rx="1.9" ry="1.81" fill="#8f86f5" opacity="0.9" transform="rotate(112.21 701.84 616.3)"/>
<ellipse cx="696.67" cy="581.75" rx="2.46" ry="1.31" fill="#3d3aa8" opacity="0.5" transform="rotate(131.95 696.67 581.75)"/>
<ellipse cx="739.21" cy="597.09" rx="1.93" ry="1.59" fill="#5f63e8" opacity="0.95" transform="rotate(26.08 739.21 597.09)"/>
<ellipse cx="725.61" cy="596.54" rx="2.22" ry="1.83" fill="#7a6cf0" opacity="0.8" transform="rotate(134.71 725.61 596.54)"/>
<ellipse cx="684.27" cy="583.3" rx="2.63" ry="1.48" fill="#4a4fd0" opacity="0.6" transform="rotate(69.92 684.27 583.3)"/>
<ellipse cx="718.71" cy="583.05" rx="2.44" ry="1.32" fill="#8f86f5" opacity="0.9" transform="rotate(74.21 718.71 583.05)"/>
<ellipse cx="705.84" cy="600.88" rx="2.78" ry="1.75" fill="#3d3aa8" opacity="0.5" transform="rotate(155.29 705.84 600.88)"/>
<ellipse cx="676.73" cy="582.66" rx="2.17" ry="1.71" fill="#5f63e8" opacity="0.95" transform="rotate(141.99 676.73 582.66)"/>
<ellipse cx="675.69" cy="612.39" rx="2.53" ry="1.56" fill="#7a6cf0" opacity="0.8" transform="rotate(31.48 675.69 612.39)"/>
<ellipse cx="725.79" cy="583.88" rx="1.92" ry="1.83" fill="#4a4fd0" opacity="0.6" transform="rotate(167.73 725.79 583.88)"/>
<ellipse cx="694.77" cy="612.35" rx="2.15" ry="1.75" fill="#8f86f5" opacity="0.9" transform="rotate(73.28 694.77 612.35)"/>
<ellipse cx="710.44" cy="614.85" rx="2.46" ry="1.81" fill="#3d3aa8" opacity="0.5" transform="rotate(57.82 710.44 614.85)"/>
<ellipse cx="706.82" cy="607.88" rx="2.46" ry="1.45" fill="#5f63e8" opacity="0.95" transform="rotate(92 706.82 607.88)"/>
<ellipse cx="686.75" cy="605.61" rx="1.93" ry="1.46" fill="#7a6cf0" opacity="0.8" transform="rotate(51.69 686.75 605.61)"/>
<ellipse cx="696.36" cy="592.52" rx="2.72" ry="1.38" fill="#4a4fd0" opacity="0.6" transform="rotate(136.49 696.36 592.52)"/>
<ellipse cx="715.41" cy="612.16" rx="1.98" ry="1.89" fill="#8f86f5" opacity="0.9" transform="rotate(29.88 715.41 612.16)"/>
<ellipse cx="740.17" cy="614.66" rx="1.98" ry="1.43" fill="#3d3aa8" opacity="0.5" transform="rotate(167.95 740.17 614.66)"/>
<ellipse cx="701.17" cy="596.22" rx="2.5" ry="1.83" fill="#5f63e8" opacity="0.95" transform="rotate(89.86 701.17 596.22)"/>
<ellipse cx="679.43" cy="617.43" rx="2" ry="1.5" fill="#7a6cf0" opacity="0.8" transform="rotate(82.01 679.43 617.43)"/>
<ellipse cx="719.52" cy="601.64" rx="2.79" ry="1.4" fill="#4a4fd0" opacity="0.6" transform="rotate(43.95 719.52 601.64)"/>
<ellipse cx="732.21" cy="590.87" rx="2.66" ry="1.37" fill="#8f86f5" opacity="0.9" transform="rotate(174.85 732.21 590.87)"/>
<polygon points="703.9,622.4 710.3,622.4 710,632 704.2,632" fill="#4a4a4c" stroke="none" stroke-width="0" stroke-linejoin="round"/>
<polygon points="698.8,631.6 715.2,631.6 718.2,636.2 694.6,636.2" fill="#48484a" stroke="none" stroke-width="0" stroke-linejoin="round"/>
<rect x="694.6" y="635.4" width="23.6" height="1.3" fill="#2d2d2f"/>
<circle cx="843.01" cy="662.48" r="3.35" fill="#9a9a9a"/>
<circle cx="827.45" cy="618.71" r="3.35" fill="#9a9a9a"/>
<circle cx="818.91" cy="647.9" r="3.35" fill="#9a9a9a"/>
<circle cx="823.49" cy="616.72" r="3.35" fill="#9a9a9a"/>
<circle cx="826.22" cy="603.64" r="3.35" fill="#9a9a9a"/>
<circle cx="830.58" cy="663.12" r="3.35" fill="#9a9a9a"/>
<circle cx="823.65" cy="594.47" r="3.35" fill="#9a9a9a"/>
<circle cx="856.8" cy="657.94" r="3.35" fill="#9a9a9a"/>
<circle cx="822.3" cy="631.71" r="3.35" fill="#9a9a9a"/>
<circle cx="831.41" cy="648.95" r="3.35" fill="#9a9a9a"/>
<circle cx="816.19" cy="620.98" r="3.35" fill="#9a9a9a"/>
<circle cx="835.12" cy="600.02" r="3.35" fill="#9a9a9a"/>
<circle cx="867.43" cy="680.02" r="3.35" fill="#9a9a9a"/>
<circle cx="903" cy="607.1" r="3.35" fill="#9a9a9a"/>
<circle cx="848.85" cy="659.77" r="3.35" fill="#9a9a9a"/>
<circle cx="910.4" cy="642.28" r="3.35" fill="#9a9a9a"/>
<circle cx="845.09" cy="669.91" r="3.35" fill="#9a9a9a"/>
<circle cx="880.98" cy="673.19" r="3.35" fill="#9a9a9a"/>
<circle cx="874.52" cy="659.97" r="3.35" fill="#9a9a9a"/>
<circle cx="922.81" cy="609.91" r="3.35" fill="#9a9a9a"/>
<circle cx="838.69" cy="605.4" r="3.35" fill="#9a9a9a"/>
<circle cx="883.17" cy="666.33" r="3.35" fill="#9a9a9a"/>
<circle cx="906.98" cy="600.46" r="3.35" fill="#9a9a9a"/>
<circle cx="922.98" cy="637.48" r="3.35" fill="#9a9a9a"/>
<circle cx="856.9" cy="669.9" r="3.35" fill="#9a9a9a"/>
<circle cx="918.28" cy="604.64" r="3.35" fill="#9a9a9a"/>
<circle cx="825.1" cy="642.46" r="3.35" fill="#9a9a9a"/>
<circle cx="907.41" cy="586.77" r="3.35" fill="#9a9a9a"/>
<circle cx="832.13" cy="603.57" r="3.35" fill="#9a9a9a"/>
<circle cx="914.05" cy="638.43" r="3.35" fill="#9a9a9a"/>
<circle cx="896.27" cy="599.62" r="3.35" fill="#9a9a9a"/>
<circle cx="921.62" cy="624.8" r="3.35" fill="#9a9a9a"/>
<circle cx="913.25" cy="648.3" r="3.35" fill="#9a9a9a"/>
<circle cx="823.57" cy="647.7" r="3.35" fill="#9a9a9a"/>
<circle cx="883.21" cy="679.31" r="3.35" fill="#9a9a9a"/>
<circle cx="845.92" cy="675.86" r="3.35" fill="#9a9a9a"/>
<circle cx="909.66" cy="656.21" r="3.35" fill="#9a9a9a"/>
<circle cx="822.26" cy="653.82" r="3.35" fill="#9a9a9a"/>
<circle cx="830.8" cy="613.95" r="3.35" fill="#9a9a9a"/>
<circle cx="838.07" cy="589.9" r="3.35" fill="#9a9a9a"/>
<circle cx="925.76" cy="620.89" r="3.35" fill="#9a9a9a"/>
<circle cx="896.29" cy="655.53" r="3.35" fill="#9a9a9a"/>
<circle cx="910.97" cy="616.44" r="3.35" fill="#9a9a9a"/>
<circle cx="922.46" cy="629.16" r="3.35" fill="#9a9a9a"/>
<circle cx="912.22" cy="610.73" r="3.35" fill="#9a9a9a"/>
<circle cx="891.71" cy="669.44" r="3.35" fill="#9a9a9a"/>
<circle cx="900.69" cy="664.09" r="3.35" fill="#9a9a9a"/>
<circle cx="900.61" cy="600.44" r="3.35" fill="#9a9a9a"/>
<circle cx="821.26" cy="624.63" r="3.35" fill="#9a9a9a"/>
<circle cx="908.86" cy="646.99" r="3.35" fill="#9a9a9a"/>
<circle cx="862.72" cy="674.43" r="3.35" fill="#9a9a9a"/>
<circle cx="834.52" cy="592.62" r="3.35" fill="#9a9a9a"/>
<circle cx="867.77" cy="672.64" r="3.35" fill="#9a9a9a"/>
<circle cx="903.66" cy="650.18" r="3.35" fill="#9a9a9a"/>
<circle cx="830.28" cy="622.44" r="3.35" fill="#9a9a9a"/>
<circle cx="831.14" cy="640.48" r="3.35" fill="#9a9a9a"/>
<circle cx="920.26" cy="643.54" r="3.35" fill="#9a9a9a"/>
<circle cx="830.46" cy="594.26" r="3.35" fill="#9a9a9a"/>
<circle cx="839.81" cy="668.31" r="3.35" fill="#9a9a9a"/>
<circle cx="829.59" cy="598.83" r="3.35" fill="#9a9a9a"/>
<circle cx="862.46" cy="668.65" r="3.35" fill="#9a9a9a"/>
<circle cx="911.37" cy="630.05" r="3.35" fill="#9a9a9a"/>
<circle cx="841.69" cy="651.94" r="3.35" fill="#9a9a9a"/>
<circle cx="899.59" cy="670.56" r="3.35" fill="#9a9a9a"/>
<circle cx="858.98" cy="678.94" r="3.35" fill="#9a9a9a"/>
<circle cx="822.69" cy="599.02" r="3.35" fill="#9a9a9a"/>
<circle cx="840.92" cy="657.51" r="3.35" fill="#9a9a9a"/>
<circle cx="830.5" cy="632.85" r="3.35" fill="#9a9a9a"/>
<circle cx="916.41" cy="617.23" r="3.35" fill="#9a9a9a"/>
<circle cx="824.83" cy="612.1" r="3.35" fill="#9a9a9a"/>
<circle cx="863.9" cy="661.07" r="3.35" fill="#9a9a9a"/>
<circle cx="903.86" cy="668.01" r="3.35" fill="#9a9a9a"/>
<circle cx="910.31" cy="625.39" r="3.35" fill="#9a9a9a"/>
<circle cx="901" cy="587.4" r="3.35" fill="#9a9a9a"/>
<circle cx="857.95" cy="674.31" r="3.35" fill="#9a9a9a"/>
<circle cx="837.5" cy="660.22" r="3.35" fill="#9a9a9a"/>
<circle cx="918.14" cy="651.34" r="3.35" fill="#9a9a9a"/>
<circle cx="917.95" cy="598.01" r="3.35" fill="#9a9a9a"/>
<circle cx="875.38" cy="671.34" r="3.35" fill="#9a9a9a"/>
<circle cx="826.05" cy="625.32" r="3.35" fill="#9a9a9a"/>
<circle cx="859.02" cy="664.17" r="3.35" fill="#9a9a9a"/>
<circle cx="879.24" cy="659.21" r="3.35" fill="#9a9a9a"/>
<circle cx="892.38" cy="673.75" r="3.35" fill="#9a9a9a"/>
<circle cx="850.81" cy="672.19" r="3.35" fill="#9a9a9a"/>
<circle cx="909.65" cy="636.55" r="3.35" fill="#9a9a9a"/>
<circle cx="885.91" cy="661.32" r="3.35" fill="#9a9a9a"/>
<circle cx="870.15" cy="666.03" r="3.35" fill="#9a9a9a"/>
<circle cx="853.24" cy="664.8" r="3.35" fill="#9a9a9a"/>
<circle cx="818.78" cy="611.85" r="3.35" fill="#9a9a9a"/>
<circle cx="827.54" cy="589.59" r="3.35" fill="#9a9a9a"/>
<circle cx="896.07" cy="659.83" r="3.35" fill="#9a9a9a"/>
<circle cx="904.52" cy="596.77" r="3.35" fill="#9a9a9a"/>
<circle cx="908.39" cy="608.05" r="3.35" fill="#9a9a9a"/>
<circle cx="834.05" cy="585.73" r="3.35" fill="#9a9a9a"/>
<circle cx="818.72" cy="602.88" r="3.35" fill="#9a9a9a"/>
<circle cx="816.45" cy="643.17" r="3.35" fill="#9a9a9a"/>
<circle cx="876.68" cy="675.96" r="3.35" fill="#9a9a9a"/>
<circle cx="826.81" cy="635.25" r="3.35" fill="#9a9a9a"/>
<circle cx="913.17" cy="600.6" r="3.35" fill="#9a9a9a"/>
<circle cx="907.97" cy="662.84" r="3.35" fill="#9a9a9a"/>
<circle cx="923.14" cy="617.05" r="3.35" fill="#9a9a9a"/>
<circle cx="842.77" cy="599.9" r="3.35" fill="#9a9a9a"/>
<circle cx="834.95" cy="664.05" r="3.35" fill="#9a9a9a"/>
<circle cx="821.8" cy="606.92" r="3.35" fill="#9a9a9a"/>
<circle cx="842.35" cy="583.49" r="3.4" fill="#ee1c25"/>
<circle cx="856.66" cy="580.63" r="3.4" fill="#ee1c25"/>
<circle cx="866.77" cy="577.2" r="3.4" fill="#ee1c25"/>
<circle cx="872.11" cy="582.35" r="3.4" fill="#ee1c25"/>
<circle cx="879.17" cy="580.06" r="3.4" fill="#ee1c25"/>
<circle cx="892.14" cy="581.59" r="3.4" fill="#ee1c25"/>
<circle cx="851.51" cy="586.74" r="3.4" fill="#ee1c25"/>
<circle cx="862" cy="585.78" r="3.4" fill="#ee1c25"/>
<circle cx="873.45" cy="587.69" r="3.4" fill="#ee1c25"/>
<circle cx="883.94" cy="585.4" r="3.4" fill="#ee1c25"/>
<circle cx="850.55" cy="595.32" r="3.4" fill="#ee1c25"/>
<circle cx="859.14" cy="591.51" r="3.4" fill="#ee1c25"/>
<circle cx="866.77" cy="591.89" r="3.4" fill="#ee1c25"/>
<circle cx="877.26" cy="593.03" r="3.4" fill="#ee1c25"/>
<circle cx="884.89" cy="593.41" r="3.4" fill="#ee1c25"/>
<circle cx="886.99" cy="594.56" r="3.4" fill="#ee1c25"/>
<circle cx="846.74" cy="574.91" r="3.4" fill="#1cab4c"/>
<circle cx="856.66" cy="570.52" r="3.4" fill="#1cab4c"/>
<circle cx="864.86" cy="573.38" r="3.4" fill="#1cab4c"/>
<circle cx="877.26" cy="570.9" r="3.4" fill="#1cab4c"/>
<circle cx="882.98" cy="572.43" r="3.4" fill="#1cab4c"/>
<circle cx="891.95" cy="574.34" r="3.4" fill="#1cab4c"/>
<circle cx="847.69" cy="581.59" r="3.4" fill="#1cab4c"/>
<ellipse cx="870.3" cy="625.8" rx="60.4" ry="59.1" fill="none" stroke="#000" stroke-width="1.6"/>
<ellipse cx="869.8" cy="626.2" rx="35.7" ry="29.6" fill="#fff" stroke="#000" stroke-width="1.6"/>
<path d="M832 564.4 L833.9 568.5 M839 579.5 L850.5 604.8 M852.6 609.5 L854.4 613.4" stroke="#000" stroke-width="1.4" stroke-dasharray="4.2 2.2" fill="none"/>
<path d="M904.5 562.9 L902.6 567.6 M898.8 577.2 L887.8 604.9" stroke="#000" stroke-width="1.4" stroke-dasharray="4.2 2.2" fill="none"/>
<text x="843.9" y="562.7" font-size="8.32" font-weight="normal" fill="#000" text-anchor="start" textLength="53.8" lengthAdjust="spacingAndGlyphs" stroke="#000" stroke-width="0.2">Area quantified</text>
<text x="843.9" y="697.4" font-size="8.32" font-weight="normal" fill="#000" text-anchor="start" textLength="53" lengthAdjust="spacingAndGlyphs" stroke="#000" stroke-width="0.2">Neural Rosette</text>
<circle cx="958.3" cy="611.2" r="3.1" fill="#ee1c25"/>
<text x="964" y="614" font-size="8.32" font-weight="normal" fill="#dc1f2a" text-anchor="start" textLength="18.2" lengthAdjust="spacingAndGlyphs" stroke="#dc1f2a" stroke-width="0.25">Pax6</text>
<circle cx="958.3" cy="634.8" r="3.1" fill="#1cab4c"/>
<text x="964" y="637.7" font-size="8.32" font-weight="normal" fill="#169a4c" text-anchor="start" textLength="16.6" lengthAdjust="spacingAndGlyphs" stroke="#169a4c" stroke-width="0.25">Tbr2</text>
<rect x="657.6" y="672.2" width="161.3" height="142.3" fill="none" stroke="#111" stroke-width="1.5" stroke-dasharray="6.2 4.2"/>
<circle cx="722.29" cy="687.59" r="3.85" fill="#1cab4c"/>
<circle cx="734.94" cy="686.69" r="3.85" fill="#1cab4c"/>
<circle cx="748.5" cy="680.36" r="3.85" fill="#1cab4c"/>
<circle cx="759.34" cy="683.98" r="3.85" fill="#1cab4c"/>
<circle cx="765.67" cy="678.56" r="3.85" fill="#1cab4c"/>
<circle cx="779.22" cy="686.69" r="3.85" fill="#1cab4c"/>
<circle cx="787.36" cy="691.21" r="3.85" fill="#1cab4c"/>
<circle cx="800.01" cy="697.53" r="3.85" fill="#1cab4c"/>
<circle cx="800.91" cy="705.67" r="3.85" fill="#1cab4c"/>
<circle cx="785.55" cy="702.05" r="3.85" fill="#1cab4c"/>
<circle cx="692.47" cy="697.53" r="3.85" fill="#1cab4c"/>
<circle cx="703.32" cy="694.82" r="3.85" fill="#1cab4c"/>
<circle cx="675.3" cy="705.67" r="3.85" fill="#1cab4c"/>
<circle cx="674.4" cy="711.99" r="3.85" fill="#1cab4c"/>
<circle cx="674.4" cy="717.41" r="3.85" fill="#1cab4c"/>
<circle cx="675.3" cy="721.93" r="3.85" fill="#1cab4c"/>
<circle cx="682.53" cy="724.64" r="3.85" fill="#1cab4c"/>
<circle cx="665.36" cy="736.39" r="3.85" fill="#1cab4c"/>
<circle cx="676.21" cy="735.49" r="3.85" fill="#1cab4c"/>
<circle cx="667.17" cy="744.52" r="3.85" fill="#1cab4c"/>
<circle cx="668.07" cy="749.04" r="3.85" fill="#1cab4c"/>
<circle cx="668.07" cy="768.02" r="3.85" fill="#1cab4c"/>
<circle cx="677.11" cy="772.54" r="3.85" fill="#1cab4c"/>
<circle cx="685.24" cy="778.86" r="3.85" fill="#1cab4c"/>
<circle cx="682.53" cy="791.51" r="3.85" fill="#1cab4c"/>
<circle cx="687.95" cy="795.13" r="3.85" fill="#1cab4c"/>
<circle cx="705.12" cy="793.32" r="3.85" fill="#1cab4c"/>
<circle cx="714.16" cy="798.74" r="3.85" fill="#1cab4c"/>
<circle cx="718.68" cy="804.17" r="3.85" fill="#1cab4c"/>
<circle cx="706.03" cy="806.88" r="3.85" fill="#1cab4c"/>
<circle cx="725.91" cy="807.78" r="3.85" fill="#1cab4c"/>
<circle cx="729.52" cy="794.22" r="3.85" fill="#1cab4c"/>
<circle cx="738.56" cy="798.74" r="3.85" fill="#1cab4c"/>
<circle cx="736.75" cy="805.97" r="3.85" fill="#1cab4c"/>
<circle cx="748.5" cy="799.65" r="3.85" fill="#1cab4c"/>
<circle cx="749.4" cy="807.78" r="3.85" fill="#1cab4c"/>
<circle cx="758.44" cy="808.68" r="3.85" fill="#1cab4c"/>
<circle cx="769.28" cy="798.74" r="3.85" fill="#1cab4c"/>
<circle cx="770.19" cy="805.97" r="3.85" fill="#1cab4c"/>
<circle cx="773.8" cy="809.59" r="3.85" fill="#1cab4c"/>
<circle cx="783.74" cy="796.03" r="3.85" fill="#1cab4c"/>
<circle cx="794.59" cy="789.71" r="3.85" fill="#1cab4c"/>
<circle cx="786.45" cy="783.38" r="3.85" fill="#1cab4c"/>
<circle cx="792.78" cy="777.96" r="3.85" fill="#1cab4c"/>
<circle cx="799.11" cy="780.67" r="3.85" fill="#1cab4c"/>
<circle cx="781.03" cy="776.15" r="3.85" fill="#1cab4c"/>
<circle cx="803.62" cy="764.4" r="3.85" fill="#1cab4c"/>
<circle cx="809.05" cy="752.66" r="3.85" fill="#1cab4c"/>
<circle cx="800.91" cy="736.39" r="3.85" fill="#1cab4c"/>
<circle cx="804.53" cy="740.91" r="3.85" fill="#1cab4c"/>
<circle cx="717.78" cy="692.11" r="3.85" fill="#ee1c25"/>
<circle cx="733.14" cy="697.53" r="3.85" fill="#ee1c25"/>
<circle cx="743.08" cy="694.82" r="3.85" fill="#ee1c25"/>
<circle cx="751.21" cy="693.01" r="3.85" fill="#ee1c25"/>
<circle cx="762.96" cy="693.01" r="3.85" fill="#ee1c25"/>
<circle cx="722.29" cy="702.05" r="3.85" fill="#ee1c25"/>
<circle cx="706.93" cy="703.86" r="3.85" fill="#ee1c25"/>
<circle cx="757.54" cy="703.86" r="3.85" fill="#ee1c25"/>
<circle cx="773.8" cy="702.95" r="3.85" fill="#ee1c25"/>
<circle cx="780.13" cy="703.86" r="3.85" fill="#ee1c25"/>
<circle cx="706.03" cy="710.18" r="3.85" fill="#ee1c25"/>
<circle cx="699.7" cy="716.51" r="3.85" fill="#ee1c25"/>
<circle cx="783.74" cy="713.8" r="3.85" fill="#ee1c25"/>
<circle cx="796.39" cy="711.99" r="3.85" fill="#ee1c25"/>
<circle cx="776.51" cy="716.51" r="3.85" fill="#ee1c25"/>
<circle cx="787.36" cy="721.93" r="3.85" fill="#ee1c25"/>
<circle cx="802.72" cy="727.35" r="3.85" fill="#ee1c25"/>
<circle cx="688.86" cy="710.18" r="3.85" fill="#ee1c25"/>
<circle cx="678.92" cy="730.06" r="3.85" fill="#ee1c25"/>
<circle cx="687.95" cy="731.87" r="3.85" fill="#ee1c25"/>
<circle cx="695.18" cy="729.16" r="3.85" fill="#ee1c25"/>
<circle cx="782.84" cy="732.78" r="3.85" fill="#ee1c25"/>
<circle cx="790.07" cy="736.39" r="3.85" fill="#ee1c25"/>
<circle cx="692.47" cy="740" r="3.85" fill="#ee1c25"/>
<circle cx="678.92" cy="743.62" r="3.85" fill="#ee1c25"/>
<circle cx="794.59" cy="743.62" r="3.85" fill="#ee1c25"/>
<circle cx="697.89" cy="751.75" r="3.85" fill="#ee1c25"/>
<circle cx="783.74" cy="748.14" r="3.85" fill="#ee1c25"/>
<circle cx="797.3" cy="752.66" r="3.85" fill="#ee1c25"/>
<circle cx="683.44" cy="758.98" r="3.85" fill="#ee1c25"/>
<circle cx="793.68" cy="759.89" r="3.85" fill="#ee1c25"/>
<circle cx="779.22" cy="762.6" r="3.85" fill="#ee1c25"/>
<circle cx="784.65" cy="763.5" r="3.85" fill="#ee1c25"/>
<circle cx="691.57" cy="766.21" r="3.85" fill="#ee1c25"/>
<circle cx="699.7" cy="770.73" r="3.85" fill="#ee1c25"/>
<circle cx="708.74" cy="775.25" r="3.85" fill="#ee1c25"/>
<circle cx="717.78" cy="777.96" r="3.85" fill="#ee1c25"/>
<circle cx="765.67" cy="773.44" r="3.85" fill="#ee1c25"/>
<circle cx="774.71" cy="775.25" r="3.85" fill="#ee1c25"/>
<circle cx="782.84" cy="774.34" r="3.85" fill="#ee1c25"/>
<circle cx="701.51" cy="783.38" r="3.85" fill="#ee1c25"/>
<circle cx="714.16" cy="787.9" r="3.85" fill="#ee1c25"/>
<circle cx="727.72" cy="784.28" r="3.85" fill="#ee1c25"/>
<circle cx="739.46" cy="777.05" r="3.85" fill="#ee1c25"/>
<circle cx="742.17" cy="784.28" r="3.85" fill="#ee1c25"/>
<circle cx="724.1" cy="790.61" r="3.85" fill="#ee1c25"/>
<circle cx="747.6" cy="789.71" r="3.85" fill="#ee1c25"/>
<circle cx="760.25" cy="785.19" r="3.85" fill="#ee1c25"/>
<circle cx="769.28" cy="785.19" r="3.85" fill="#ee1c25"/>
<circle cx="768.38" cy="789.71" r="3.85" fill="#ee1c25"/>
<circle cx="680.72" cy="687.59" r="3.85" fill="#f3f52e"/>
<circle cx="684.34" cy="693.01" r="3.85" fill="#f3f52e"/>
<circle cx="699.7" cy="686.69" r="3.85" fill="#f3f52e"/>
<circle cx="706.03" cy="689.4" r="3.85" fill="#f3f52e"/>
<circle cx="715.97" cy="687.59" r="3.85" fill="#f3f52e"/>
<circle cx="739.46" cy="676.21" r="3.85" fill="#f3f52e"/>
<circle cx="740.37" cy="681.27" r="3.85" fill="#f3f52e"/>
<circle cx="772.9" cy="685.78" r="3.85" fill="#f3f52e"/>
<circle cx="774.71" cy="695.72" r="3.85" fill="#f3f52e"/>
<circle cx="797.3" cy="691.75" r="3.85" fill="#f3f52e"/>
<circle cx="790.97" cy="699.34" r="3.85" fill="#f3f52e"/>
<circle cx="789.17" cy="709.28" r="3.85" fill="#f3f52e"/>
<circle cx="796.39" cy="720.12" r="3.85" fill="#f3f52e"/>
<circle cx="801.82" cy="746.33" r="3.85" fill="#f3f52e"/>
<circle cx="811.76" cy="765.31" r="3.85" fill="#f3f52e"/>
<circle cx="790.07" cy="769.83" r="3.85" fill="#f3f52e"/>
<circle cx="798.2" cy="770.73" r="3.85" fill="#f3f52e"/>
<circle cx="806.33" cy="787" r="3.85" fill="#f3f52e"/>
<circle cx="748.5" cy="783.38" r="3.85" fill="#f3f52e"/>
<circle cx="754.83" cy="789.71" r="3.85" fill="#f3f52e"/>
<circle cx="756.63" cy="798.74" r="3.85" fill="#f3f52e"/>
<circle cx="696.99" cy="789.71" r="3.85" fill="#f3f52e"/>
<circle cx="689.76" cy="789.71" r="3.85" fill="#f3f52e"/>
<circle cx="696.63" cy="799.65" r="3.85" fill="#f3f52e"/>
<circle cx="698.8" cy="764.4" r="3.85" fill="#f3f52e"/>
<circle cx="686.15" cy="768.92" r="3.85" fill="#f3f52e"/>
<circle cx="671.69" cy="759.89" r="3.85" fill="#f3f52e"/>
<circle cx="680.72" cy="756.81" r="3.85" fill="#f3f52e"/>
<circle cx="687.05" cy="740" r="3.85" fill="#f3f52e"/>
<circle cx="683.44" cy="717.41" r="3.85" fill="#f3f52e"/>
<circle cx="684.34" cy="707.47" r="3.85" fill="#f3f52e"/>
<circle cx="693.38" cy="703.86" r="3.85" fill="#f3f52e"/>
<circle cx="700.61" cy="701.15" r="3.85" fill="#f3f52e"/>
<circle cx="729.52" cy="703.86" r="3.7" fill="#9a9a9a"/>
<circle cx="736.75" cy="707.47" r="3.7" fill="#9a9a9a"/>
<circle cx="745.79" cy="704.76" r="3.7" fill="#9a9a9a"/>
<circle cx="751.21" cy="709.28" r="3.7" fill="#9a9a9a"/>
<circle cx="756.63" cy="711.99" r="3.7" fill="#9a9a9a"/>
<circle cx="763.86" cy="714.7" r="3.7" fill="#9a9a9a"/>
<circle cx="722.29" cy="711.99" r="3.7" fill="#9a9a9a"/>
<circle cx="725.91" cy="717.41" r="3.7" fill="#9a9a9a"/>
<circle cx="716.87" cy="718.32" r="3.7" fill="#9a9a9a"/>
<circle cx="714.16" cy="722.83" r="3.7" fill="#9a9a9a"/>
<circle cx="709.64" cy="729.16" r="3.7" fill="#9a9a9a"/>
<circle cx="707.83" cy="734.58" r="3.7" fill="#9a9a9a"/>
<circle cx="712.35" cy="733.68" r="3.7" fill="#9a9a9a"/>
<circle cx="710.55" cy="740.91" r="3.7" fill="#9a9a9a"/>
<circle cx="706.93" cy="744.52" r="3.7" fill="#9a9a9a"/>
<circle cx="707.83" cy="749.94" r="3.7" fill="#9a9a9a"/>
<circle cx="712.35" cy="753.56" r="3.7" fill="#9a9a9a"/>
<circle cx="715.97" cy="755.37" r="3.7" fill="#9a9a9a"/>
<circle cx="718.68" cy="758.98" r="3.7" fill="#9a9a9a"/>
<circle cx="721.39" cy="763.5" r="3.7" fill="#9a9a9a"/>
<circle cx="724.1" cy="768.92" r="3.7" fill="#9a9a9a"/>
<circle cx="729.52" cy="769.83" r="3.7" fill="#9a9a9a"/>
<circle cx="734.04" cy="763.5" r="3.7" fill="#9a9a9a"/>
<circle cx="740.37" cy="769.83" r="3.7" fill="#9a9a9a"/>
<circle cx="743.98" cy="766.21" r="3.7" fill="#9a9a9a"/>
<circle cx="744.89" cy="758.98" r="3.7" fill="#9a9a9a"/>
<circle cx="751.21" cy="769.83" r="3.7" fill="#9a9a9a"/>
<circle cx="756.63" cy="758.98" r="3.7" fill="#9a9a9a"/>
<circle cx="759.34" cy="761.69" r="3.7" fill="#9a9a9a"/>
<circle cx="764.77" cy="758.98" r="3.7" fill="#9a9a9a"/>
<circle cx="753.92" cy="748.14" r="3.7" fill="#9a9a9a"/>
<circle cx="758.44" cy="750.85" r="3.7" fill="#9a9a9a"/>
<circle cx="771.09" cy="756.27" r="3.7" fill="#9a9a9a"/>
<circle cx="772.9" cy="751.75" r="3.7" fill="#9a9a9a"/>
<circle cx="768.38" cy="744.52" r="3.7" fill="#9a9a9a"/>
<circle cx="771.09" cy="741.81" r="3.7" fill="#9a9a9a"/>
<circle cx="774.71" cy="737.29" r="3.7" fill="#9a9a9a"/>
<circle cx="767.48" cy="732.78" r="3.7" fill="#9a9a9a"/>
<circle cx="768.38" cy="727.35" r="3.7" fill="#9a9a9a"/>
<circle cx="772.9" cy="722.83" r="3.7" fill="#9a9a9a"/>
<circle cx="762.05" cy="724.64" r="3.7" fill="#9a9a9a"/>
<circle cx="765.67" cy="719.22" r="3.7" fill="#9a9a9a"/>
<circle cx="758.44" cy="717.41" r="3.7" fill="#9a9a9a"/>
<circle cx="751.21" cy="712.89" r="3.7" fill="#9a9a9a"/>
<circle cx="732.23" cy="711.09" r="3.7" fill="#9a9a9a"/>
<circle cx="740.37" cy="710.18" r="3.7" fill="#9a9a9a"/>
<circle cx="746.69" cy="711.09" r="3.7" fill="#9a9a9a"/>
<circle cx="760.25" cy="721.93" r="3.7" fill="#9a9a9a"/>
<circle cx="770.19" cy="736.39" r="3.7" fill="#9a9a9a"/>
<circle cx="713.26" cy="747.23" r="3.7" fill="#9a9a9a"/>
<circle cx="736.75" cy="766.21" r="3.7" fill="#9a9a9a"/>
<circle cx="761.15" cy="755.37" r="3.7" fill="#9a9a9a"/>
<circle cx="755.73" cy="716.51" r="3.7" fill="#9a9a9a"/>
<circle cx="721.39" cy="719.22" r="3.7" fill="#9a9a9a"/>
<circle cx="711.45" cy="737.29" r="3.7" fill="#9a9a9a"/>
<ellipse cx="741.2" cy="738.3" rx="39.2" ry="37.3" fill="none" stroke="#000" stroke-width="1.5"/>
<circle cx="741.3" cy="737.1" r="21.9" fill="#fff" stroke="#000" stroke-width="1.5"/>
<text x="661.1" y="681.6" font-size="9.15" font-weight="normal" fill="#000" text-anchor="start" textLength="59.4" lengthAdjust="spacingAndGlyphs" stroke="#000" stroke-width="0.2">Area quantified</text>
<circle cx="839.8" cy="742.7" r="3.8" fill="#ee1c25"/>
<text x="846" y="746.2" font-size="9.78" font-weight="normal" fill="#dc1f2a" text-anchor="start" textLength="19" lengthAdjust="spacingAndGlyphs" stroke="#dc1f2a" stroke-width="0.3">Tbr1</text>
<circle cx="839.8" cy="771.1" r="3.8" fill="#1cab4c"/>
<text x="846" y="774.7" font-size="9.78" font-weight="normal" fill="#169a4c" text-anchor="start" textLength="22.5" lengthAdjust="spacingAndGlyphs" stroke="#169a4c" stroke-width="0.3">Ctip2</text>
<circle cx="839.8" cy="799.6" r="3.8" fill="#f3f52e"/>
<text x="846" y="803.1" font-size="9.4" textLength="46" lengthAdjust="spacingAndGlyphs"><tspan fill="#dc1f2a" stroke="#dc1f2a" stroke-width="0.3">Tbr1</tspan><tspan fill="#333" stroke="#333" stroke-width="0.3">-</tspan><tspan fill="#169a4c" stroke="#169a4c" stroke-width="0.3">Ctip2</tspan></text>
</g>
</svg></body></html>
